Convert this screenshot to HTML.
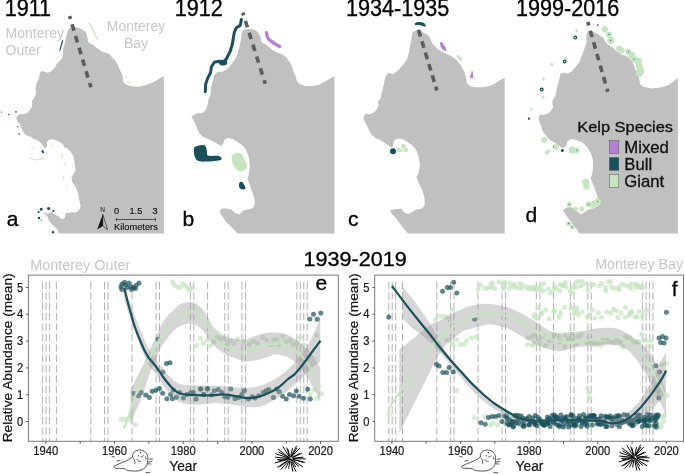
<!DOCTYPE html>
<html><head><meta charset="utf-8"><title>Kelp</title>
<style>html,body{margin:0;padding:0;background:#fff;width:685px;height:474px;overflow:hidden}svg{display:block}text{font-family:"Liberation Sans",Arial,sans-serif}</style>
</head><body>
<svg width="685" height="474" viewBox="0 0 685 474">
<rect width="685" height="474" fill="#fff"/>
<polygon points="67.2,33.2 68.4,29.4 71.0,27.3 74.0,26.9 78.0,27.5 81.1,29.0 84.0,30.5 85.6,31.9 87.0,35.0 87.3,37.0 88.1,42.1 90.6,43.8 93.0,44.5 95.5,47.0 98.1,48.9 101.9,51.5 105.7,52.7 109.5,54.0 112.0,57.2 115.2,60.3 117.7,64.8 119.6,69.2 121.5,73.0 122.8,76.8 123.4,81.9 125.9,84.4 131.0,86.3 138.6,86.7 146.2,85.0 153.8,81.9 158.9,78.7 163.8,76.2 163.8,233.6 58.6,233.6 58.1,230.8 56.9,229.1 55.6,227.4 53.5,225.7 51.8,224.1 50.1,221.9 48.4,220.3 48.4,218.1 46.8,216.0 45.1,214.3 43.4,212.7 45.1,212.2 46.8,213.9 48.4,213.5 50.1,212.7 51.0,211.8 52.7,212.2 54.3,214.3 56.9,215.6 59.0,216.5 59.8,217.7 60.7,218.6 62.8,219.0 64.5,218.1 65.3,216.5 65.3,213.5 66.2,212.7 67.8,213.1 69.5,212.7 72.1,212.2 75.4,212.7 77.1,211.8 79.8,208.8 80.6,205.4 78.9,198.7 78.1,193.6 75.6,186.9 72.2,181.8 71.4,177.6 73.0,175.1 75.6,170.0 75.1,166.3 74.3,160.4 73.4,156.2 70.9,151.9 67.5,148.6 64.1,146.9 62.4,143.5 59.1,141.8 55.4,140.1 52.2,139.2 48.5,140.1 46.9,142.2 46.9,146.4 45.9,148.5 43.8,146.4 41.6,144.3 40.1,142.2 38.0,140.6 35.3,139.6 32.7,138.5 31.1,136.9 27.9,135.9 24.8,134.3 23.2,131.6 22.1,129.0 20.5,125.8 19.0,123.2 17.4,121.1 16.3,118.5 17.4,115.8 19.5,114.2 23.7,114.2 26.9,113.2 29.5,110.5 31.6,107.4 32.2,103.2 31.9,100.9 33.9,98.2 35.5,95.1 36.1,92.0 35.5,88.8 36.1,85.6 36.6,82.4 38.2,80.3 39.2,77.2 39.8,73.5 40.8,71.4 42.9,71.0 45.0,72.1 47.7,72.7 50.8,71.4 53.5,69.2 55.6,66.6 56.6,64.0 58.8,61.9 60.9,59.7 62.4,57.6 63.0,55.0 62.8,52.2 63.6,47.1 64.6,44.0 65.5,40.1 66.3,37.0" fill="#c0c0c0"/>
<polygon points="241.7,32.8 243.0,30.2 246.0,29.2 250.0,29.0 253.1,29.2 256.5,31.1 259.0,33.6 260.7,37.8 261.5,42.1 264.1,43.8 266.0,44.5 268.8,47.0 272.6,50.2 277.7,52.7 282.7,54.6 286.5,57.8 290.3,62.9 292.2,66.7 293.5,71.7 295.4,75.5 296.7,80.6 299.2,83.8 304.3,85.7 310.6,86.3 318.2,85.0 324.5,81.9 329.6,78.7 334.4,76.2 334.4,233.6 237.2,233.6 234.9,230.5 231.4,227.0 226.7,222.4 223.3,217.8 220.9,214.3 219.8,210.8 222.1,208.5 226.7,208.5 231.4,209.6 234.9,213.1 239.5,214.3 243.0,210.8 247.6,209.6 252.2,208.5 254.6,205.0 254.6,199.2 252.2,192.2 249.9,185.3 247.6,179.5 248.8,173.7 249.9,166.7 248.8,157.5 246.4,150.5 243.0,145.9 238.3,142.4 233.7,139.4 227.9,137.8 224.4,140.1 223.3,143.6 220.9,145.9 215.1,142.4 208.2,138.9 202.4,136.5 199.0,132.6 197.3,128.4 195.6,124.1 193.1,119.9 191.4,116.5 193.9,114.9 197.3,113.2 202.4,113.2 205.8,109.8 207.4,105.6 208.3,99.7 210.8,93.8 210.8,88.7 211.8,84.3 212.5,81.9 214.2,75.2 217.6,71.8 222.6,71.8 226.5,69.5 229.4,66.8 232.9,62.3 236.3,57.3 238.8,48.8 240.5,42.1 241.3,37.8" fill="#c0c0c0"/>
<polygon points="412.3,32.7 414.0,31.0 418.0,30.7 421.8,31.2 423.7,32.7 426.8,34.0 429.4,36.5 430.6,39.5 431.9,42.5 433.8,45.1 437.6,48.9 442.7,52.1 447.7,54.6 453.4,57.2 456.6,60.3 460.4,64.8 462.9,69.2 464.8,73.0 466.1,78.1 466.7,83.1 469.3,85.7 474.3,87.2 483.2,87.2 490.8,85.7 497.1,81.9 504.7,77.4 504.7,233.6 407.9,233.6 406.0,231.2 402.5,227.0 399.1,222.4 395.6,217.8 392.1,214.3 389.8,210.3 393.3,209.6 397.9,208.9 401.4,208.5 403.7,212.0 408.3,214.3 411.8,212.0 416.4,209.6 422.2,208.5 424.6,205.0 424.6,198.0 422.2,189.9 418.8,183.0 416.4,177.2 418.8,172.5 419.9,165.6 418.8,157.5 416.4,150.5 413.0,145.9 407.2,141.7 402.5,138.9 397.9,138.4 394.4,140.1 393.3,143.6 392.1,148.2 387.5,144.7 380.5,140.1 376.1,138.5 371.8,135.1 369.3,130.9 367.6,126.7 365.1,122.4 363.4,118.2 365.1,114.0 370.2,114.3 374.4,112.3 376.9,108.9 378.6,104.7 377.8,101.4 380.3,98.8 382.0,92.1 383.7,85.3 384.5,80.3 386.2,75.2 388.7,72.7 392.9,74.3 398.0,70.5 402.8,65.0 406.5,60.3 407.8,56.8 409.1,51.7 409.7,46.6 411.0,42.2 411.6,37.8" fill="#c0c0c0"/>
<polygon points="586.7,33.4 588.0,31.6 591.0,31.2 593.0,31.6 595.6,32.7 599.4,35.3 603.1,37.5 605.6,42.0 608.1,44.5 613.2,47.9 616.6,51.3 621.6,54.6 626.7,56.3 630.1,58.9 633.4,63.9 635.1,69.0 637.6,74.1 639.3,79.1 640.2,84.2 643.6,86.7 652.0,88.4 660.4,87.5 668.9,85.0 677.3,78.6 677.9,77.9 677.9,233.6 579.0,233.6 576.7,229.3 573.2,224.7 569.7,220.1 566.3,215.4 563.0,210.5 565.1,208.5 567.4,207.3 570.9,207.3 574.4,208.9 577.9,212.0 581.3,214.3 584.8,212.0 588.3,209.6 592.9,208.5 597.6,206.2 598.7,201.5 597.6,196.9 595.2,189.9 592.9,184.1 590.6,178.3 591.8,174.9 592.9,169.1 592.9,159.8 590.6,152.8 587.1,147.0 582.5,142.4 576.7,140.1 570.9,138.9 567.4,141.2 566.3,145.9 562.8,148.2 555.8,143.6 548.9,138.9 543.1,132.0 542.0,129.3 541.2,125.9 539.5,121.7 538.6,117.4 540.3,114.1 542.8,114.9 547.1,114.1 550.4,111.5 553.0,107.3 552.1,102.3 553.0,99.7 555.5,95.5 556.4,91.3 557.2,86.2 558.9,82.0 559.7,76.9 560.6,73.6 563.9,72.7 568.2,73.6 572.4,71.0 575.8,66.8 579.5,62.0 581.5,56.0 582.9,53.0 584.2,49.2 585.4,45.4 586.7,42.2 586.1,38.4" fill="#c0c0c0"/>
<line x1="69.58" y1="15.9" x2="90.9" y2="87.3" stroke="#5c5c5c" stroke-width="3.6" stroke-dasharray="6.68 5.58" stroke-dashoffset="3.55"/>
<line x1="242.8" y1="12.6" x2="265.2" y2="83.7" stroke="#5c5c5c" stroke-width="3.6" stroke-dasharray="6.61 5.81" stroke-dashoffset="3.67"/>
<line x1="416.3" y1="22.8" x2="436.9" y2="90.4" stroke="#5c5c5c" stroke-width="3.6" stroke-dasharray="6.90 4.97" stroke-dashoffset="4.50"/>
<line x1="587.8" y1="22.1" x2="607.8" y2="91.8" stroke="#5c5c5c" stroke-width="3.6" stroke-dasharray="6.66 5.41" stroke-dashoffset="3.12"/>
<polyline points="89.0,23.0 90.5,25.5 92.5,28.5 93.5,31.5 94.5,33.5 95.5,36.0 97.0,38.0 98.0,39.5" fill="none" stroke="#c5e5bf" stroke-width="1.3" stroke-linecap="round" stroke-linejoin="round"/>
<polyline points="62.6,40.5 61.8,43.5 60.8,47.0 59.8,50.3" fill="none" stroke="#1a505b" stroke-width="1.1" stroke-linecap="round" stroke-linejoin="round"/>
<polyline points="29.6,158.0 33.0,159.5 36.0,160.0 39.0,159.3 42.0,158.8 44.3,158.0" fill="none" stroke="#c5e5bf" stroke-width="1.0" stroke-linecap="round" stroke-linejoin="round"/>
<polyline points="31.5,146.2 33.5,148.4" fill="none" stroke="#c5e5bf" stroke-width="0.9" stroke-linecap="round" stroke-linejoin="round"/>
<ellipse cx="42.8" cy="151.7" rx="1.1" ry="1.8" transform="rotate(-30 42.8 151.7)" fill="#1a505b"/>
<polyline points="50.8,143.3 51.6,145.5 52.6,147.0" fill="none" stroke="#c5e5bf" stroke-width="0.9" stroke-linecap="round" stroke-linejoin="round"/>
<polyline points="61.5,154.0 62.5,158.0" fill="none" stroke="#c5e5bf" stroke-width="0.9" stroke-linecap="round" stroke-linejoin="round"/>
<polyline points="64.0,162.0 65.5,166.0" fill="none" stroke="#c5e5bf" stroke-width="0.9" stroke-linecap="round" stroke-linejoin="round"/>
<polyline points="63.0,176.0 64.0,180.0" fill="none" stroke="#c5e5bf" stroke-width="0.9" stroke-linecap="round" stroke-linejoin="round"/>
<polyline points="66.0,185.0 67.0,188.0" fill="none" stroke="#c5e5bf" stroke-width="0.9" stroke-linecap="round" stroke-linejoin="round"/>
<circle cx="41.2" cy="209.3" r="1.5" fill="#1a505b"/>
<circle cx="38.6" cy="212" r="1.1" fill="#1a505b"/>
<circle cx="48.6" cy="208.5" r="1.6" fill="#1a505b"/>
<circle cx="53.4" cy="210.8" r="1.1" fill="#1a505b"/>
<circle cx="38.9" cy="218" r="1.2" fill="#1a505b"/>
<circle cx="41.2" cy="220.1" r="0.7" fill="#1a505b"/>
<circle cx="53" cy="232.3" r="1.2" fill="#1a505b"/>
<circle cx="8.8" cy="114.5" r="0.8" fill="#1a505b"/>
<circle cx="16" cy="111.8" r="0.9" fill="#1a505b"/>
<circle cx="17.8" cy="126.6" r="0.7" fill="#1a505b"/>
<circle cx="19.2" cy="134" r="0.8" fill="#1a505b"/>
<circle cx="1.5" cy="112" r="0.6" fill="#1a505b"/>
<circle cx="45.8" cy="208.3" r="0.8" fill="#c5e5bf"/>
<circle cx="51.3" cy="207.8" r="0.7" fill="#c5e5bf"/>
<polyline points="125.6,76.0 126.4,78.7" fill="none" stroke="#c5e5bf" stroke-width="0.9" stroke-linecap="round" stroke-linejoin="round"/>
<polyline points="127.2,82.5 131.0,82.5" fill="none" stroke="#c5e5bf" stroke-width="0.9" stroke-linecap="round" stroke-linejoin="round"/>
<polyline points="100.4,43.0 100.8,43.5" fill="none" stroke="#c5e5bf" stroke-width="0.9" stroke-linecap="round" stroke-linejoin="round"/>
<polyline points="106.0,49.0 107.0,49.6" fill="none" stroke="#c5e5bf" stroke-width="0.9" stroke-linecap="round" stroke-linejoin="round"/>
<polyline points="241.4,19.5 240.3,25.2 236.1,28.1 234.2,32.8 233.3,38.5 232.3,44.2 230.4,50.9 228.5,54.7 226.6,58.5 223.8,62.3 219.0,61.3 214.3,62.3 211.4,67.0 210.5,72.7 207.6,78.4 205.7,84.1 205.3,91.7" fill="none" stroke="#1a505b" stroke-width="3.0" stroke-linecap="round" stroke-linejoin="round"/>
<ellipse cx="223" cy="62.6" rx="4.3" ry="2.9" fill="#1a505b"/>
<polyline points="266.4,32.6 267.3,36.7 268.6,39.2 271.5,41.5 275.3,44.0 279.7,46.5" fill="none" stroke="#b57fd3" stroke-width="3.3" stroke-linecap="round" stroke-linejoin="round"/>
<path d="M193.9,147.7 C196,145.5 200,144.8 204,144.9 C206.5,145.5 207,150 207.2,155.3 C210,156.5 215,155.6 218.5,155.9 C221,156 222.5,158.5 221.1,159.7 C218,161 212,161.3 206.5,161.6 C202,161.8 198.9,161.6 196.5,160 C194.5,157.5 193.4,153 193.9,147.7 Z" fill="#1a505b"/>
<path d="M231.8,155.9 C233,153 237,152.2 240.7,153.4 C243,155 246,161 247,165.4 C247,168 245.5,169.8 243,170.8 C240,171.8 237,170.5 235.5,168.5 C233,165 231.3,161 231.8,155.9 Z" fill="#c5e5bf"/>
<path d="M239.4,183.1 C240,181.5 242,181.4 243.2,183 C244,185 245.8,186.8 245.5,188.2 C244.8,189.9 242,189.9 240.1,188.6 C238.6,187 238.6,184.8 239.4,183.1 Z" fill="#1a505b"/>
<path d="M415.2,23 L418,22 L422,22.2 L424.5,23.2 L426,26.6 L424.2,26.4 L421,25.3 L417.5,25.1 L415.6,24.6 Z" fill="#1a505b"/>
<path d="M440,42.5 L442.6,42.2 L443.6,45 L445.6,47.4 L446.3,50.2 L445,51.3 L442.6,49.6 L441,47.2 L440.2,45 Z" fill="#b57fd3"/>
<path d="M456.8,55 L459,54.8 L460.6,57.2 L462.3,59.5 L461.6,61.6 L459.8,60.6 L458.3,58.6 L456.8,57 Z" fill="#c5e5bf"/>
<path d="M471.6,71.2 L473,71.4 L473.2,78 L470,77.8 L470.3,75.2 L471.2,74 Z" fill="#b57fd3"/>
<circle cx="393" cy="151.2" r="3" fill="#1a505b"/>
<circle cx="398.5" cy="149.9" r="2.2" fill="#c5e5bf"/>
<circle cx="403.4" cy="146.2" r="2.4" fill="#c5e5bf"/>
<circle cx="405.8" cy="149.9" r="2.3" fill="#c5e5bf"/>
<circle cx="401.5" cy="150.5" r="1.6" fill="#c5e5bf"/>
<circle cx="576.6" cy="30.8" r="1.5" fill="#c5e5bf"/>
<circle cx="565.8" cy="58.7" r="1.5" fill="#c5e5bf"/>
<circle cx="551.5" cy="64.6" r="1.5" fill="#c5e5bf"/>
<circle cx="565.6" cy="58.4" r="1.5" fill="#c5e5bf"/>
<circle cx="551.8" cy="64.6" r="1.5" fill="#c5e5bf"/>
<circle cx="543.4" cy="79.1" r="1.5" fill="#c5e5bf"/>
<circle cx="543" cy="97.2" r="1.5" fill="#c5e5bf"/>
<circle cx="531.4" cy="109" r="1.5" fill="#c5e5bf"/>
<circle cx="604.7" cy="29.3" r="3.2" fill="#c5e5bf"/>
<circle cx="609" cy="34.4" r="3" fill="#c5e5bf"/>
<circle cx="610.7" cy="40.3" r="3.5" fill="#c5e5bf"/>
<circle cx="619.1" cy="48.7" r="3" fill="#c5e5bf"/>
<circle cx="621.6" cy="50.4" r="3" fill="#c5e5bf"/>
<circle cx="628.4" cy="51.8" r="3" fill="#c5e5bf"/>
<circle cx="631.7" cy="55.2" r="3.5" fill="#c5e5bf"/>
<circle cx="634.3" cy="59.2" r="3.5" fill="#c5e5bf"/>
<circle cx="638.5" cy="61.4" r="3.5" fill="#c5e5bf"/>
<circle cx="639.3" cy="66.5" r="3.6" fill="#c5e5bf"/>
<circle cx="640.2" cy="71.5" r="4" fill="#c5e5bf"/>
<circle cx="639.3" cy="74.1" r="3" fill="#c5e5bf"/>
<circle cx="544.2" cy="140.1" r="3" fill="#c5e5bf"/>
<circle cx="555.8" cy="147" r="3" fill="#c5e5bf"/>
<circle cx="546.6" cy="152.8" r="2" fill="#c5e5bf"/>
<circle cx="548.8" cy="151" r="1.7" fill="#c5e5bf"/>
<circle cx="572.1" cy="150" r="3.5" fill="#c5e5bf"/>
<circle cx="576.7" cy="150.5" r="3" fill="#c5e5bf"/>
<circle cx="585.7" cy="182" r="3.5" fill="#c5e5bf"/>
<circle cx="586.5" cy="186.5" r="3.2" fill="#c5e5bf"/>
<circle cx="569.3" cy="204.3" r="2.5" fill="#c5e5bf"/>
<circle cx="575.5" cy="208.9" r="2.5" fill="#c5e5bf"/>
<circle cx="581.8" cy="208.9" r="2.5" fill="#c5e5bf"/>
<circle cx="588.8" cy="204.3" r="3" fill="#c5e5bf"/>
<circle cx="592.9" cy="205" r="3" fill="#c5e5bf"/>
<circle cx="597.6" cy="201.5" r="3.5" fill="#c5e5bf"/>
<circle cx="594.5" cy="203.5" r="3" fill="#c5e5bf"/>
<circle cx="568.6" cy="223.6" r="2.5" fill="#c5e5bf"/>
<circle cx="572.1" cy="227" r="2.5" fill="#c5e5bf"/>
<circle cx="575.3" cy="37.5" r="1.35" fill="none" stroke="#1a505b" stroke-width="1.3"/>
<circle cx="564.6" cy="61.4" r="1.35" fill="none" stroke="#1a505b" stroke-width="1.3"/>
<circle cx="541.7" cy="89.6" r="1.35" fill="none" stroke="#1a505b" stroke-width="1.3"/>
<circle cx="597.8" cy="25.1" r="0.9" fill="#1a505b"/>
<circle cx="609" cy="34.4" r="0.6" fill="#1a505b"/>
<circle cx="610.7" cy="40.3" r="0.6" fill="#1a505b"/>
<circle cx="628.4" cy="51.8" r="0.6" fill="#1a505b"/>
<circle cx="634" cy="59.2" r="0.6" fill="#1a505b"/>
<circle cx="528.9" cy="118.7" r="1.1" fill="#1a505b"/>
<circle cx="553.5" cy="146.3" r="0.6" fill="#1a505b"/>
<circle cx="562.3" cy="150.5" r="1.5" fill="#1a505b"/>
<circle cx="576.7" cy="150.5" r="0.5" fill="#1a505b"/>
<circle cx="569.3" cy="204.3" r="0.6" fill="#1a505b"/>
<circle cx="588.8" cy="204.3" r="0.6" fill="#1a505b"/>
<circle cx="597.6" cy="201.5" r="0.6" fill="#1a505b"/>
<circle cx="568.6" cy="223.6" r="0.6" fill="#1a505b"/>
<circle cx="572.1" cy="227" r="0.6" fill="#1a505b"/>
<g transform="translate(0,15.6) scale(1,1.07)">
<text x="4.7" y="0" font-size="21.6" fill="#000" text-anchor="start"  stroke="#000" stroke-width="0.3">1911</text>
<text x="174.7" y="0" font-size="21.6" fill="#000" text-anchor="start"  stroke="#000" stroke-width="0.3">1912</text>
<text x="346" y="0" font-size="21.6" fill="#000" text-anchor="start"  stroke="#000" stroke-width="0.3">1934-1935</text>
<text x="516" y="0" font-size="21.6" fill="#000" text-anchor="start"  stroke="#000" stroke-width="0.3">1999-2016</text>
</g>
<text x="5.6" y="38.4" font-size="14" fill="#c6c6c6" text-anchor="start" >Monterey</text>
<text x="5.6" y="55.2" font-size="14" fill="#c6c6c6" text-anchor="start" >Outer</text>
<text x="136" y="31.2" font-size="14" fill="#c6c6c6" text-anchor="middle" >Monterey</text>
<text x="136" y="48" font-size="14" fill="#c6c6c6" text-anchor="middle" >Bay</text>
<text x="6.8" y="226.2" font-size="21" fill="#000" text-anchor="start"  stroke="#000" stroke-width="0.3">a</text>
<text x="182.6" y="226.4" font-size="21" fill="#000" text-anchor="start"  stroke="#000" stroke-width="0.3">b</text>
<text x="348" y="226.4" font-size="21" fill="#000" text-anchor="start"  stroke="#000" stroke-width="0.3">c</text>
<text x="525.6" y="222.2" font-size="21" fill="#000" text-anchor="start"  stroke="#000" stroke-width="0.3">d</text>
<text x="116.5" y="213.7" font-size="9.2" fill="#111" text-anchor="middle"  stroke="#111" stroke-width="0.15">0</text>
<text x="135.9" y="213.7" font-size="9.2" fill="#111" text-anchor="middle"  stroke="#111" stroke-width="0.15">1.5</text>
<text x="155.1" y="213.7" font-size="9.2" fill="#111" text-anchor="middle"  stroke="#111" stroke-width="0.15">3</text>
<path d="M116.3,219.5 H155.4 M116.3,217.9 V221.2 M155.4,217.9 V221.2" stroke="#333" stroke-width="0.8" fill="none"/>
<text x="114" y="229.5" font-size="9.8" fill="#111" text-anchor="start" textLength="43.8" lengthAdjust="spacingAndGlyphs" stroke="#111" stroke-width="0.12">Kilometers</text>
<text x="102.5" y="212" font-size="6.5" fill="#111" text-anchor="middle" >N</text>
<path d="M102.8,214.3 L97.2,229.5 L102.8,226 Z" fill="#111"/><path d="M102.8,214.3 L107.5,229.5 L102.8,226 Z" fill="none" stroke="#111" stroke-width="0.6"/>
<text x="577.2" y="131.9" font-size="14.8" fill="#111" text-anchor="start" textLength="95.8" lengthAdjust="spacingAndGlyphs" stroke="#111" stroke-width="0.3">Kelp Species</text>
<rect x="609.4" y="140.7" width="9.4" height="12.8" fill="#b57fd3" stroke="#555" stroke-width="0.5"/>
<g transform="translate(624.3,0) scale(1.045,1) translate(-624.3,0)"><text x="624.3" y="152.89999999999998" font-size="16" fill="#111" text-anchor="start"  stroke="#111" stroke-width="0.3">Mixed</text></g>
<rect x="609.4" y="157.6" width="9.4" height="12.8" fill="#1a505b" stroke="#555" stroke-width="0.5"/>
<g transform="translate(624.3,0) scale(1.045,1) translate(-624.3,0)"><text x="624.3" y="169.79999999999998" font-size="16" fill="#111" text-anchor="start"  stroke="#111" stroke-width="0.3">Bull</text></g>
<rect x="609.4" y="174.5" width="9.4" height="12.8" fill="#c5e5bf" stroke="#555" stroke-width="0.5"/>
<g transform="translate(624.3,0) scale(1.045,1) translate(-624.3,0)"><text x="624.3" y="186.7" font-size="16" fill="#111" text-anchor="start"  stroke="#111" stroke-width="0.3">Giant</text></g>
<g transform="translate(355.2,0) scale(1.038,1) translate(-355.2,0)"><text x="355.2" y="266.2" font-size="20.8" fill="#000" text-anchor="middle"  stroke="#000" stroke-width="0.3">1939-2019</text></g>
<g transform="translate(30.2,0) scale(1.03,1) translate(-30.2,0)"><text x="30.2" y="269.6" font-size="14" fill="#c6c6c6" text-anchor="start" >Monterey Outer</text></g>
<g transform="translate(683.2,0) scale(1.02,1) translate(-683.2,0)"><text x="683.2" y="269.3" font-size="14" fill="#c6c6c6" text-anchor="end" >Monterey Bay</text></g>
<line x1="42.7" y1="281.8" x2="42.7" y2="441" stroke="#b3b3b3" stroke-width="1" stroke-dasharray="7.4 3"/>
<line x1="46.1" y1="281.8" x2="46.1" y2="441" stroke="#b3b3b3" stroke-width="1" stroke-dasharray="7.4 3"/>
<line x1="49.6" y1="281.8" x2="49.6" y2="441" stroke="#b3b3b3" stroke-width="1" stroke-dasharray="7.4 3"/>
<line x1="56.4" y1="281.8" x2="56.4" y2="441" stroke="#b3b3b3" stroke-width="1" stroke-dasharray="7.4 3"/>
<line x1="90.8" y1="281.8" x2="90.8" y2="441" stroke="#b3b3b3" stroke-width="1" stroke-dasharray="7.4 3"/>
<line x1="104.5" y1="281.8" x2="104.5" y2="441" stroke="#b3b3b3" stroke-width="1" stroke-dasharray="7.4 3"/>
<line x1="108.0" y1="281.8" x2="108.0" y2="441" stroke="#b3b3b3" stroke-width="1" stroke-dasharray="7.4 3"/>
<line x1="132.0" y1="281.8" x2="132.0" y2="441" stroke="#b3b3b3" stroke-width="1" stroke-dasharray="7.4 3"/>
<line x1="156.1" y1="281.8" x2="156.1" y2="441" stroke="#b3b3b3" stroke-width="1" stroke-dasharray="7.4 3"/>
<line x1="159.5" y1="281.8" x2="159.5" y2="441" stroke="#b3b3b3" stroke-width="1" stroke-dasharray="7.4 3"/>
<line x1="190.4" y1="281.8" x2="190.4" y2="441" stroke="#b3b3b3" stroke-width="1" stroke-dasharray="7.4 3"/>
<line x1="193.8" y1="281.8" x2="193.8" y2="441" stroke="#b3b3b3" stroke-width="1" stroke-dasharray="7.4 3"/>
<line x1="207.6" y1="281.8" x2="207.6" y2="441" stroke="#b3b3b3" stroke-width="1" stroke-dasharray="7.4 3"/>
<line x1="224.8" y1="281.8" x2="224.8" y2="441" stroke="#b3b3b3" stroke-width="1" stroke-dasharray="7.4 3"/>
<line x1="228.2" y1="281.8" x2="228.2" y2="441" stroke="#b3b3b3" stroke-width="1" stroke-dasharray="7.4 3"/>
<line x1="241.9" y1="281.8" x2="241.9" y2="441" stroke="#b3b3b3" stroke-width="1" stroke-dasharray="7.4 3"/>
<line x1="245.4" y1="281.8" x2="245.4" y2="441" stroke="#b3b3b3" stroke-width="1" stroke-dasharray="7.4 3"/>
<line x1="296.9" y1="281.8" x2="296.9" y2="441" stroke="#b3b3b3" stroke-width="1" stroke-dasharray="7.4 3"/>
<line x1="300.3" y1="281.8" x2="300.3" y2="441" stroke="#b3b3b3" stroke-width="1" stroke-dasharray="7.4 3"/>
<line x1="303.8" y1="281.8" x2="303.8" y2="441" stroke="#b3b3b3" stroke-width="1" stroke-dasharray="7.4 3"/>
<line x1="307.2" y1="281.8" x2="307.2" y2="441" stroke="#b3b3b3" stroke-width="1" stroke-dasharray="7.4 3"/>
<circle cx="172.6" cy="282.2" r="2.5" fill="#c5e5bf" fill-opacity="0.75"/>
<circle cx="174.4" cy="284.9" r="2.5" fill="#c5e5bf" fill-opacity="0.75"/>
<circle cx="177.1" cy="286.7" r="2.5" fill="#c5e5bf" fill-opacity="0.75"/>
<circle cx="179.9" cy="287.6" r="2.5" fill="#c5e5bf" fill-opacity="0.75"/>
<circle cx="182.6" cy="284.0" r="2.5" fill="#c5e5bf" fill-opacity="0.75"/>
<circle cx="185.3" cy="285.8" r="2.5" fill="#c5e5bf" fill-opacity="0.75"/>
<circle cx="188.0" cy="288.5" r="2.5" fill="#c5e5bf" fill-opacity="0.75"/>
<circle cx="189.8" cy="290.3" r="2.5" fill="#c5e5bf" fill-opacity="0.75"/>
<circle cx="192.6" cy="287.6" r="2.5" fill="#c5e5bf" fill-opacity="0.75"/>
<circle cx="121.0" cy="419.2" r="2.5" fill="#c5e5bf" fill-opacity="0.75"/>
<circle cx="124.7" cy="419.6" r="2.5" fill="#c5e5bf" fill-opacity="0.75"/>
<circle cx="128.3" cy="419.6" r="2.5" fill="#c5e5bf" fill-opacity="0.75"/>
<circle cx="131.1" cy="415.2" r="2.5" fill="#c5e5bf" fill-opacity="0.75"/>
<circle cx="135.1" cy="424.7" r="2.5" fill="#c5e5bf" fill-opacity="0.75"/>
<circle cx="196.1" cy="345.4" r="2.5" fill="#c5e5bf" fill-opacity="0.75"/>
<circle cx="200.2" cy="338.3" r="2.5" fill="#c5e5bf" fill-opacity="0.75"/>
<circle cx="203.3" cy="343.4" r="2.5" fill="#c5e5bf" fill-opacity="0.75"/>
<circle cx="207.4" cy="340.3" r="2.5" fill="#c5e5bf" fill-opacity="0.75"/>
<circle cx="210.4" cy="345.4" r="2.5" fill="#c5e5bf" fill-opacity="0.75"/>
<circle cx="217.6" cy="337.3" r="2.5" fill="#c5e5bf" fill-opacity="0.75"/>
<circle cx="220.7" cy="339.3" r="2.5" fill="#c5e5bf" fill-opacity="0.75"/>
<circle cx="223.7" cy="338.3" r="2.5" fill="#c5e5bf" fill-opacity="0.75"/>
<circle cx="227.8" cy="343.4" r="2.5" fill="#c5e5bf" fill-opacity="0.75"/>
<circle cx="230.9" cy="340.3" r="2.5" fill="#c5e5bf" fill-opacity="0.75"/>
<circle cx="234.0" cy="343.4" r="2.5" fill="#c5e5bf" fill-opacity="0.75"/>
<circle cx="237.4" cy="338.9" r="2.5" fill="#c5e5bf" fill-opacity="0.75"/>
<circle cx="249.3" cy="344.4" r="2.5" fill="#c5e5bf" fill-opacity="0.75"/>
<circle cx="253.4" cy="341.4" r="2.5" fill="#c5e5bf" fill-opacity="0.75"/>
<circle cx="257.5" cy="343.4" r="2.5" fill="#c5e5bf" fill-opacity="0.75"/>
<circle cx="262.6" cy="337.3" r="2.5" fill="#c5e5bf" fill-opacity="0.75"/>
<circle cx="266.7" cy="340.3" r="2.5" fill="#c5e5bf" fill-opacity="0.75"/>
<circle cx="270.8" cy="344.4" r="2.5" fill="#c5e5bf" fill-opacity="0.75"/>
<circle cx="273.8" cy="339.7" r="2.5" fill="#c5e5bf" fill-opacity="0.75"/>
<circle cx="276.9" cy="339.3" r="2.5" fill="#c5e5bf" fill-opacity="0.75"/>
<circle cx="279.0" cy="344.4" r="2.5" fill="#c5e5bf" fill-opacity="0.75"/>
<circle cx="283.0" cy="336.2" r="2.5" fill="#c5e5bf" fill-opacity="0.75"/>
<circle cx="286.1" cy="341.4" r="2.5" fill="#c5e5bf" fill-opacity="0.75"/>
<circle cx="290.2" cy="340.3" r="2.5" fill="#c5e5bf" fill-opacity="0.75"/>
<circle cx="293.3" cy="344.4" r="2.5" fill="#c5e5bf" fill-opacity="0.75"/>
<circle cx="297.4" cy="342.4" r="2.5" fill="#c5e5bf" fill-opacity="0.75"/>
<circle cx="300.4" cy="337.3" r="2.5" fill="#c5e5bf" fill-opacity="0.75"/>
<circle cx="303.5" cy="344.4" r="2.5" fill="#c5e5bf" fill-opacity="0.75"/>
<circle cx="316.8" cy="335.2" r="2.5" fill="#c5e5bf" fill-opacity="0.75"/>
<circle cx="244.0" cy="341.0" r="2.5" fill="#c5e5bf" fill-opacity="0.75"/>
<circle cx="213.5" cy="342.0" r="2.5" fill="#c5e5bf" fill-opacity="0.75"/>
<circle cx="313.6" cy="390.2" r="2.5" fill="#c5e5bf" fill-opacity="0.75"/>
<circle cx="310.3" cy="394.4" r="2.5" fill="#c5e5bf" fill-opacity="0.75"/>
<circle cx="316.6" cy="398.2" r="2.5" fill="#c5e5bf" fill-opacity="0.75"/>
<circle cx="321.6" cy="393.6" r="2.5" fill="#c5e5bf" fill-opacity="0.75"/>
<circle cx="120.9" cy="286.7" r="2.5" fill="#1a505b" fill-opacity="0.7"/>
<circle cx="121.8" cy="289.4" r="2.5" fill="#1a505b" fill-opacity="0.7"/>
<circle cx="124.5" cy="282.2" r="2.5" fill="#1a505b" fill-opacity="0.7"/>
<circle cx="125.4" cy="284.9" r="2.5" fill="#1a505b" fill-opacity="0.7"/>
<circle cx="127.2" cy="287.6" r="2.5" fill="#1a505b" fill-opacity="0.7"/>
<circle cx="129.0" cy="283.1" r="2.5" fill="#1a505b" fill-opacity="0.7"/>
<circle cx="130.9" cy="286.7" r="2.5" fill="#1a505b" fill-opacity="0.7"/>
<circle cx="133.6" cy="287.6" r="2.5" fill="#1a505b" fill-opacity="0.7"/>
<circle cx="135.4" cy="288.5" r="2.5" fill="#1a505b" fill-opacity="0.7"/>
<circle cx="139.0" cy="283.1" r="2.5" fill="#1a505b" fill-opacity="0.7"/>
<circle cx="136.3" cy="285.3" r="2.5" fill="#1a505b" fill-opacity="0.7"/>
<circle cx="122.0" cy="284.0" r="2.5" fill="#1a505b" fill-opacity="0.7"/>
<circle cx="131.5" cy="289.5" r="2.5" fill="#1a505b" fill-opacity="0.7"/>
<circle cx="158.1" cy="339.3" r="2.5" fill="#1a505b" fill-opacity="0.7"/>
<circle cx="162.7" cy="371.9" r="2.5" fill="#1a505b" fill-opacity="0.7"/>
<circle cx="166.5" cy="363.6" r="2.5" fill="#1a505b" fill-opacity="0.7"/>
<circle cx="170.0" cy="362.7" r="2.5" fill="#1a505b" fill-opacity="0.7"/>
<circle cx="133.9" cy="393.5" r="2.5" fill="#1a505b" fill-opacity="0.7"/>
<circle cx="138.4" cy="395.7" r="2.5" fill="#1a505b" fill-opacity="0.7"/>
<circle cx="141.2" cy="392.6" r="2.5" fill="#1a505b" fill-opacity="0.7"/>
<circle cx="145.8" cy="395.0" r="2.5" fill="#1a505b" fill-opacity="0.7"/>
<circle cx="149.4" cy="397.6" r="2.5" fill="#1a505b" fill-opacity="0.7"/>
<circle cx="152.2" cy="391.3" r="2.5" fill="#1a505b" fill-opacity="0.7"/>
<circle cx="155.9" cy="390.2" r="2.5" fill="#1a505b" fill-opacity="0.7"/>
<circle cx="159.5" cy="388.4" r="2.5" fill="#1a505b" fill-opacity="0.7"/>
<circle cx="162.7" cy="393.2" r="2.5" fill="#1a505b" fill-opacity="0.7"/>
<circle cx="166.9" cy="398.7" r="2.5" fill="#1a505b" fill-opacity="0.7"/>
<circle cx="170.6" cy="394.4" r="2.5" fill="#1a505b" fill-opacity="0.7"/>
<circle cx="173.3" cy="389.9" r="2.5" fill="#1a505b" fill-opacity="0.7"/>
<circle cx="172.4" cy="398.7" r="2.5" fill="#1a505b" fill-opacity="0.7"/>
<circle cx="176.4" cy="397.2" r="2.5" fill="#1a505b" fill-opacity="0.7"/>
<circle cx="179.7" cy="392.6" r="2.5" fill="#1a505b" fill-opacity="0.7"/>
<circle cx="183.4" cy="398.1" r="2.5" fill="#1a505b" fill-opacity="0.7"/>
<circle cx="187.1" cy="394.4" r="2.5" fill="#1a505b" fill-opacity="0.7"/>
<circle cx="190.7" cy="392.6" r="2.5" fill="#1a505b" fill-opacity="0.7"/>
<circle cx="193.5" cy="392.6" r="2.5" fill="#1a505b" fill-opacity="0.7"/>
<circle cx="196.2" cy="399.0" r="2.5" fill="#1a505b" fill-opacity="0.7"/>
<circle cx="200.3" cy="388.9" r="2.5" fill="#1a505b" fill-opacity="0.7"/>
<circle cx="203.6" cy="394.4" r="2.5" fill="#1a505b" fill-opacity="0.7"/>
<circle cx="207.2" cy="388.9" r="2.5" fill="#1a505b" fill-opacity="0.7"/>
<circle cx="200.9" cy="389.0" r="2.5" fill="#1a505b" fill-opacity="0.7"/>
<circle cx="203.7" cy="394.4" r="2.5" fill="#1a505b" fill-opacity="0.7"/>
<circle cx="207.7" cy="388.6" r="2.5" fill="#1a505b" fill-opacity="0.7"/>
<circle cx="211.4" cy="395.0" r="2.5" fill="#1a505b" fill-opacity="0.7"/>
<circle cx="214.3" cy="390.8" r="2.5" fill="#1a505b" fill-opacity="0.7"/>
<circle cx="218.3" cy="389.5" r="2.5" fill="#1a505b" fill-opacity="0.7"/>
<circle cx="221.7" cy="392.6" r="2.5" fill="#1a505b" fill-opacity="0.7"/>
<circle cx="224.8" cy="396.8" r="2.5" fill="#1a505b" fill-opacity="0.7"/>
<circle cx="227.9" cy="397.2" r="2.5" fill="#1a505b" fill-opacity="0.7"/>
<circle cx="230.8" cy="389.0" r="2.5" fill="#1a505b" fill-opacity="0.7"/>
<circle cx="234.9" cy="398.7" r="2.5" fill="#1a505b" fill-opacity="0.7"/>
<circle cx="238.5" cy="397.6" r="2.5" fill="#1a505b" fill-opacity="0.7"/>
<circle cx="241.8" cy="394.4" r="2.5" fill="#1a505b" fill-opacity="0.7"/>
<circle cx="244.4" cy="390.8" r="2.5" fill="#1a505b" fill-opacity="0.7"/>
<circle cx="248.6" cy="399.0" r="2.5" fill="#1a505b" fill-opacity="0.7"/>
<circle cx="252.3" cy="396.8" r="2.5" fill="#1a505b" fill-opacity="0.7"/>
<circle cx="255.0" cy="398.1" r="2.5" fill="#1a505b" fill-opacity="0.7"/>
<circle cx="258.7" cy="395.7" r="2.5" fill="#1a505b" fill-opacity="0.7"/>
<circle cx="263.3" cy="392.6" r="2.5" fill="#1a505b" fill-opacity="0.7"/>
<circle cx="266.1" cy="390.8" r="2.5" fill="#1a505b" fill-opacity="0.7"/>
<circle cx="268.8" cy="389.5" r="2.5" fill="#1a505b" fill-opacity="0.7"/>
<circle cx="273.4" cy="397.6" r="2.5" fill="#1a505b" fill-opacity="0.7"/>
<circle cx="276.7" cy="388.9" r="2.5" fill="#1a505b" fill-opacity="0.7"/>
<circle cx="279.3" cy="391.7" r="2.5" fill="#1a505b" fill-opacity="0.7"/>
<circle cx="282.6" cy="396.3" r="2.5" fill="#1a505b" fill-opacity="0.7"/>
<circle cx="286.2" cy="399.0" r="2.5" fill="#1a505b" fill-opacity="0.7"/>
<circle cx="289.5" cy="394.4" r="2.5" fill="#1a505b" fill-opacity="0.7"/>
<circle cx="293.6" cy="395.7" r="2.5" fill="#1a505b" fill-opacity="0.7"/>
<circle cx="296.3" cy="391.1" r="2.5" fill="#1a505b" fill-opacity="0.7"/>
<circle cx="299.1" cy="396.3" r="2.5" fill="#1a505b" fill-opacity="0.7"/>
<circle cx="303.5" cy="398.2" r="2.5" fill="#1a505b" fill-opacity="0.7"/>
<circle cx="307.7" cy="389.3" r="2.5" fill="#1a505b" fill-opacity="0.7"/>
<circle cx="310.3" cy="399.0" r="2.5" fill="#1a505b" fill-opacity="0.7"/>
<circle cx="309.9" cy="319.0" r="2.5" fill="#1a505b" fill-opacity="0.7"/>
<circle cx="313.5" cy="314.2" r="2.5" fill="#1a505b" fill-opacity="0.7"/>
<circle cx="317.2" cy="319.3" r="2.5" fill="#1a505b" fill-opacity="0.7"/>
<circle cx="320.8" cy="313.0" r="2.5" fill="#1a505b" fill-opacity="0.7"/>
<path d="M130.5,390.0 C131.2,388.5 133.4,384.2 135.0,381.0 C136.6,377.8 138.3,374.3 140.0,371.0 C141.7,367.7 143.3,364.7 145.0,361.0 C146.7,357.3 148.3,352.7 150.0,349.0 C151.7,345.3 153.2,342.9 155.0,339.0 C156.8,335.1 159.0,329.2 161.0,325.5 C163.0,321.8 165.0,318.9 167.0,316.5 C169.0,314.1 170.6,312.8 172.8,310.8 C175.0,308.8 177.4,305.7 180.0,304.3 C182.6,302.9 185.9,302.4 188.4,302.2 C190.9,302.0 193.1,302.5 195.2,303.4 C197.3,304.3 199.4,306.0 201.1,307.7 C202.8,309.4 203.9,311.5 205.3,313.6 C206.7,315.7 208.2,318.1 209.5,320.3 C210.8,322.5 212.0,325.0 213.4,326.8 C214.8,328.6 216.3,329.8 217.7,331.0 C219.1,332.2 220.4,333.3 221.9,334.3 C223.4,335.3 224.8,336.1 226.9,336.9 C229.0,337.7 231.5,338.8 234.5,339.2 C237.5,339.6 241.6,340.0 245.0,339.5 C248.4,339.0 251.5,337.1 255.0,336.0 C258.5,334.9 262.7,333.6 266.0,333.0 C269.3,332.4 271.8,332.3 275.0,332.5 C278.2,332.7 281.7,332.9 285.0,334.0 C288.3,335.1 291.7,336.8 295.0,339.0 C298.3,341.2 301.8,344.0 305.0,347.0 C308.2,350.0 311.4,353.5 314.0,357.0 C316.6,360.5 319.2,366.2 320.3,368.0 L320.3,402.0 C319.2,399.8 316.6,393.7 314.0,389.0 C311.4,384.3 308.2,378.5 305.0,374.0 C301.8,369.5 298.3,365.0 295.0,362.0 C291.7,359.0 288.3,357.2 285.0,356.0 C281.7,354.8 278.2,354.2 275.0,354.5 C271.8,354.8 269.3,356.5 266.0,357.5 C262.7,358.5 258.5,359.9 255.0,360.5 C251.5,361.1 248.4,361.4 245.0,361.0 C241.6,360.6 237.5,359.0 234.5,358.0 C231.5,357.0 229.0,356.0 226.9,355.0 C224.8,354.0 223.4,353.0 221.9,352.0 C220.4,351.0 219.1,350.2 217.7,349.0 C216.3,347.8 214.8,346.5 213.4,345.0 C212.0,343.5 210.8,341.9 209.5,340.0 C208.2,338.1 206.7,335.7 205.3,333.8 C203.9,331.9 202.8,330.4 201.1,328.8 C199.4,327.2 197.3,325.4 195.2,324.5 C193.1,323.6 190.9,323.4 188.4,323.7 C185.9,324.0 182.6,324.9 180.0,326.2 C177.4,327.5 175.0,329.4 172.8,331.5 C170.6,333.6 169.0,336.3 167.0,339.0 C165.0,341.7 163.0,343.7 161.0,347.5 C159.0,351.3 156.8,357.8 155.0,362.0 C153.2,366.2 151.7,368.7 150.0,373.0 C148.3,377.3 146.7,383.2 145.0,388.0 C143.3,392.8 141.7,397.8 140.0,402.0 C138.3,406.2 136.6,409.2 135.0,413.0 C133.4,416.8 131.2,423.0 130.5,425.0 Z" fill="#999" fill-opacity="0.4"/>
<path d="M122.5,283.0 C123.1,284.5 124.8,288.7 126.0,292.0 C127.2,295.3 128.5,299.0 130.0,303.0 C131.5,307.0 133.3,311.7 135.0,316.0 C136.7,320.3 138.3,324.8 140.0,329.0 C141.7,333.2 143.3,337.3 145.0,341.0 C146.7,344.7 148.2,347.8 150.0,351.0 C151.8,354.2 153.8,357.0 156.0,360.0 C158.2,363.0 160.5,366.0 163.0,369.0 C165.5,372.0 168.5,375.7 171.0,378.0 C173.5,380.3 175.5,381.8 178.0,383.0 C180.5,384.2 182.3,384.6 186.0,385.0 C189.7,385.4 194.7,385.3 200.0,385.5 C205.3,385.7 211.8,385.7 218.0,386.0 C224.2,386.3 231.5,387.2 237.0,387.5 C242.5,387.8 246.5,388.0 251.0,387.5 C255.5,387.0 260.0,385.9 264.0,384.5 C268.0,383.1 271.5,381.1 275.0,379.0 C278.5,376.9 281.7,374.8 285.0,372.0 C288.3,369.2 291.7,365.8 295.0,362.0 C298.3,358.2 301.8,353.8 305.0,349.0 C308.2,344.2 311.4,338.2 314.0,333.0 C316.6,327.8 319.2,320.5 320.3,318.0 L320.3,362.0 C319.2,362.7 316.6,363.8 314.0,366.0 C311.4,368.2 308.2,372.0 305.0,375.0 C301.8,378.0 298.3,381.0 295.0,384.0 C291.7,387.0 288.3,390.5 285.0,393.0 C281.7,395.5 278.5,396.9 275.0,399.0 C271.5,401.1 268.0,404.1 264.0,405.5 C260.0,406.9 255.5,407.3 251.0,407.3 C246.5,407.3 242.5,406.2 237.0,405.5 C231.5,404.8 224.2,403.2 218.0,403.0 C211.8,402.8 205.3,404.3 200.0,404.5 C194.7,404.7 189.7,404.6 186.0,404.0 C182.3,403.4 180.5,402.5 178.0,401.0 C175.5,399.5 173.5,397.7 171.0,395.0 C168.5,392.3 165.5,388.5 163.0,385.0 C160.5,381.5 158.2,377.0 156.0,374.0 C153.8,371.0 151.8,369.8 150.0,367.0 C148.2,364.2 146.7,360.7 145.0,357.0 C143.3,353.3 141.7,349.2 140.0,345.0 C138.3,340.8 136.7,336.5 135.0,332.0 C133.3,327.5 131.5,322.5 130.0,318.0 C128.5,313.5 127.2,309.5 126.0,305.0 C124.8,300.5 123.1,293.3 122.5,291.0 Z" fill="#999" fill-opacity="0.4"/>
<path d="M123.8,428.8 C124.8,425.9 127.8,417.8 130.0,411.5 C132.2,405.2 134.5,398.2 137.0,391.0 C139.5,383.8 142.3,374.8 145.0,368.0 C147.7,361.2 151.0,355.2 153.4,350.5 C155.8,345.8 157.3,343.0 159.3,339.8 C161.3,336.6 163.2,334.0 165.2,331.3 C167.2,328.6 169.0,326.1 171.1,323.8 C173.2,321.6 175.7,319.4 177.8,317.8 C179.9,316.2 181.8,315.1 183.8,314.2 C185.8,313.3 187.8,312.7 190.0,312.7 C192.2,312.7 194.9,313.2 196.9,314.0 C198.9,314.8 200.2,315.8 201.9,317.6 C203.6,319.4 205.6,322.7 207.0,325.0 C208.4,327.3 209.2,328.9 210.5,331.2 C211.8,333.5 213.2,336.4 215.1,338.6 C217.0,340.8 219.4,342.8 221.9,344.5 C224.4,346.2 227.5,347.6 230.3,348.7 C233.1,349.8 236.4,350.7 238.8,351.2 C241.2,351.7 242.8,351.8 245.0,351.6 C247.2,351.4 249.3,350.7 252.1,349.8 C254.9,348.9 258.4,347.0 261.6,346.0 C264.8,345.0 268.0,344.4 271.1,344.0 C274.2,343.6 277.7,343.6 280.0,343.8 C282.3,344.0 283.4,344.6 285.1,345.2 C286.8,345.8 288.3,346.6 290.0,347.5 C291.7,348.4 293.6,349.2 295.3,350.3 C297.0,351.4 298.3,352.3 300.0,354.0 C301.7,355.7 303.7,358.2 305.4,360.4 C307.1,362.6 308.6,364.8 310.0,367.0 C311.4,369.2 312.7,371.7 313.9,373.9 C315.1,376.1 315.9,377.9 317.0,380.0 C318.1,382.1 320.0,385.5 320.6,386.6" fill="none" stroke="#c5e5bf" stroke-width="2"/>
<path d="M124.3,288.0 C124.8,290.0 126.2,296.0 127.2,300.0 C128.2,304.0 129.3,307.8 130.5,312.0 C131.7,316.2 132.9,321.0 134.4,325.5 C135.9,330.0 137.8,334.8 139.5,339.0 C141.2,343.2 143.0,347.4 144.5,350.5 C146.0,353.6 146.7,354.8 148.6,357.5 C150.5,360.2 153.5,363.2 155.9,366.5 C158.3,369.8 160.8,373.7 163.2,377.0 C165.6,380.3 168.1,383.6 170.6,386.2 C173.1,388.8 175.5,391.2 177.9,392.6 C180.3,394.0 182.1,394.0 185.2,394.4 C188.2,394.8 191.9,395.0 196.2,395.2 C200.5,395.4 206.4,395.5 211.0,395.4 C215.6,395.3 219.6,394.2 223.9,394.4 C228.2,394.5 232.7,395.7 236.7,396.3 C240.7,396.9 244.0,398.0 247.7,398.1 C251.4,398.2 255.0,397.7 258.7,396.8 C262.4,395.9 266.3,394.2 269.7,392.6 C273.1,391.0 275.8,389.4 278.9,387.1 C282.0,384.8 285.6,381.1 288.1,379.0 C290.7,376.9 292.2,376.4 294.2,374.6 C296.2,372.8 298.1,370.3 300.0,368.0 C301.9,365.7 303.7,363.2 305.4,361.0 C307.1,358.8 308.6,356.7 310.0,354.8 C311.4,352.9 312.2,351.8 314.0,349.4 C315.8,347.0 319.5,342.1 320.6,340.6" fill="none" stroke="#1a505b" stroke-width="2.2"/>
<rect x="28.4" y="275.1" width="309.9" height="166.2" fill="none" stroke="#7a7a7a" stroke-width="1"/>
<line x1="45.8" y1="441.3" x2="45.8" y2="443.8" stroke="#333" stroke-width="0.8"/>
<text transform="translate(45.8,455) scale(1,1.08)" x="0" y="0" font-size="11.2" fill="#1a1a1a" stroke="#1a1a1a" stroke-width="0.2" text-anchor="middle">1940</text>
<line x1="80.2" y1="441.3" x2="80.2" y2="443.8" stroke="#333" stroke-width="0.8"/>
<line x1="114.5" y1="441.3" x2="114.5" y2="443.8" stroke="#333" stroke-width="0.8"/>
<text transform="translate(114.5,455) scale(1,1.08)" x="0" y="0" font-size="11.2" fill="#1a1a1a" stroke="#1a1a1a" stroke-width="0.2" text-anchor="middle">1960</text>
<line x1="148.8" y1="441.3" x2="148.8" y2="443.8" stroke="#333" stroke-width="0.8"/>
<line x1="183.2" y1="441.3" x2="183.2" y2="443.8" stroke="#333" stroke-width="0.8"/>
<text transform="translate(183.2,455) scale(1,1.08)" x="0" y="0" font-size="11.2" fill="#1a1a1a" stroke="#1a1a1a" stroke-width="0.2" text-anchor="middle">1980</text>
<line x1="217.6" y1="441.3" x2="217.6" y2="443.8" stroke="#333" stroke-width="0.8"/>
<line x1="251.9" y1="441.3" x2="251.9" y2="443.8" stroke="#333" stroke-width="0.8"/>
<text transform="translate(251.9,455) scale(1,1.08)" x="0" y="0" font-size="11.2" fill="#1a1a1a" stroke="#1a1a1a" stroke-width="0.2" text-anchor="middle">2000</text>
<line x1="286.2" y1="441.3" x2="286.2" y2="443.8" stroke="#333" stroke-width="0.8"/>
<line x1="320.6" y1="441.3" x2="320.6" y2="443.8" stroke="#333" stroke-width="0.8"/>
<text transform="translate(320.6,455) scale(1,1.08)" x="0" y="0" font-size="11.2" fill="#1a1a1a" stroke="#1a1a1a" stroke-width="0.2" text-anchor="middle">2020</text>
<line x1="26.1" y1="421.5" x2="28.4" y2="421.5" stroke="#333" stroke-width="0.8"/>
<text transform="translate(23.2,425.6) scale(1,1.08)" x="0" y="0" font-size="11.2" fill="#1a1a1a" stroke="#1a1a1a" stroke-width="0.2" text-anchor="end">0</text>
<line x1="26.1" y1="394.7" x2="28.4" y2="394.7" stroke="#333" stroke-width="0.8"/>
<text transform="translate(23.2,398.8) scale(1,1.08)" x="0" y="0" font-size="11.2" fill="#1a1a1a" stroke="#1a1a1a" stroke-width="0.2" text-anchor="end">1</text>
<line x1="26.1" y1="367.9" x2="28.4" y2="367.9" stroke="#333" stroke-width="0.8"/>
<text transform="translate(23.2,372.0) scale(1,1.08)" x="0" y="0" font-size="11.2" fill="#1a1a1a" stroke="#1a1a1a" stroke-width="0.2" text-anchor="end">2</text>
<line x1="26.1" y1="341.1" x2="28.4" y2="341.1" stroke="#333" stroke-width="0.8"/>
<text transform="translate(23.2,345.2) scale(1,1.08)" x="0" y="0" font-size="11.2" fill="#1a1a1a" stroke="#1a1a1a" stroke-width="0.2" text-anchor="end">3</text>
<line x1="26.1" y1="314.3" x2="28.4" y2="314.3" stroke="#333" stroke-width="0.8"/>
<text transform="translate(23.2,318.4) scale(1,1.08)" x="0" y="0" font-size="11.2" fill="#1a1a1a" stroke="#1a1a1a" stroke-width="0.2" text-anchor="end">4</text>
<line x1="26.1" y1="287.5" x2="28.4" y2="287.5" stroke="#333" stroke-width="0.8"/>
<text transform="translate(23.2,291.6) scale(1,1.08)" x="0" y="0" font-size="11.2" fill="#1a1a1a" stroke="#1a1a1a" stroke-width="0.2" text-anchor="end">5</text>
<text x="183.2" y="470.7" font-size="13.8" fill="#111" text-anchor="middle"  stroke="#111" stroke-width="0.2">Year</text>
<text transform="translate(12.1,357.9) rotate(-90)" x="0" y="0" font-size="13.7" fill="#111" stroke="#111" stroke-width="0.2" text-anchor="middle">Relative Abundance (mean)</text>
<text x="315.5" y="290.2" font-size="21" fill="#000" text-anchor="start"  stroke="#000" stroke-width="0.3">e</text>
<line x1="388.8" y1="281.8" x2="388.8" y2="441" stroke="#b3b3b3" stroke-width="1" stroke-dasharray="7.4 3"/>
<line x1="392.2" y1="281.8" x2="392.2" y2="441" stroke="#b3b3b3" stroke-width="1" stroke-dasharray="7.4 3"/>
<line x1="395.7" y1="281.8" x2="395.7" y2="441" stroke="#b3b3b3" stroke-width="1" stroke-dasharray="7.4 3"/>
<line x1="402.5" y1="281.8" x2="402.5" y2="441" stroke="#b3b3b3" stroke-width="1" stroke-dasharray="7.4 3"/>
<line x1="436.8" y1="281.8" x2="436.8" y2="441" stroke="#b3b3b3" stroke-width="1" stroke-dasharray="7.4 3"/>
<line x1="450.6" y1="281.8" x2="450.6" y2="441" stroke="#b3b3b3" stroke-width="1" stroke-dasharray="7.4 3"/>
<line x1="454.0" y1="281.8" x2="454.0" y2="441" stroke="#b3b3b3" stroke-width="1" stroke-dasharray="7.4 3"/>
<line x1="478.0" y1="281.8" x2="478.0" y2="441" stroke="#b3b3b3" stroke-width="1" stroke-dasharray="7.4 3"/>
<line x1="502.0" y1="281.8" x2="502.0" y2="441" stroke="#b3b3b3" stroke-width="1" stroke-dasharray="7.4 3"/>
<line x1="505.5" y1="281.8" x2="505.5" y2="441" stroke="#b3b3b3" stroke-width="1" stroke-dasharray="7.4 3"/>
<line x1="536.3" y1="281.8" x2="536.3" y2="441" stroke="#b3b3b3" stroke-width="1" stroke-dasharray="7.4 3"/>
<line x1="539.8" y1="281.8" x2="539.8" y2="441" stroke="#b3b3b3" stroke-width="1" stroke-dasharray="7.4 3"/>
<line x1="553.5" y1="281.8" x2="553.5" y2="441" stroke="#b3b3b3" stroke-width="1" stroke-dasharray="7.4 3"/>
<line x1="570.7" y1="281.8" x2="570.7" y2="441" stroke="#b3b3b3" stroke-width="1" stroke-dasharray="7.4 3"/>
<line x1="574.1" y1="281.8" x2="574.1" y2="441" stroke="#b3b3b3" stroke-width="1" stroke-dasharray="7.4 3"/>
<line x1="587.8" y1="281.8" x2="587.8" y2="441" stroke="#b3b3b3" stroke-width="1" stroke-dasharray="7.4 3"/>
<line x1="591.2" y1="281.8" x2="591.2" y2="441" stroke="#b3b3b3" stroke-width="1" stroke-dasharray="7.4 3"/>
<line x1="642.7" y1="281.8" x2="642.7" y2="441" stroke="#b3b3b3" stroke-width="1" stroke-dasharray="7.4 3"/>
<line x1="646.1" y1="281.8" x2="646.1" y2="441" stroke="#b3b3b3" stroke-width="1" stroke-dasharray="7.4 3"/>
<line x1="649.6" y1="281.8" x2="649.6" y2="441" stroke="#b3b3b3" stroke-width="1" stroke-dasharray="7.4 3"/>
<line x1="653.0" y1="281.8" x2="653.0" y2="441" stroke="#b3b3b3" stroke-width="1" stroke-dasharray="7.4 3"/>
<circle cx="388.8" cy="415.6" r="2.5" fill="#c5e5bf" fill-opacity="0.75"/>
<circle cx="456.8" cy="390.5" r="2.5" fill="#c5e5bf" fill-opacity="0.75"/>
<circle cx="474.4" cy="417.4" r="2.5" fill="#c5e5bf" fill-opacity="0.75"/>
<circle cx="435.3" cy="319.7" r="2.5" fill="#c5e5bf" fill-opacity="0.75"/>
<circle cx="439.3" cy="315.7" r="2.5" fill="#c5e5bf" fill-opacity="0.75"/>
<circle cx="443.3" cy="316.5" r="2.5" fill="#c5e5bf" fill-opacity="0.75"/>
<circle cx="446.5" cy="317.3" r="2.5" fill="#c5e5bf" fill-opacity="0.75"/>
<circle cx="449.7" cy="319.7" r="2.5" fill="#c5e5bf" fill-opacity="0.75"/>
<circle cx="452.9" cy="310.1" r="2.5" fill="#c5e5bf" fill-opacity="0.75"/>
<circle cx="452.9" cy="344.5" r="2.5" fill="#c5e5bf" fill-opacity="0.75"/>
<circle cx="456.9" cy="339.7" r="2.5" fill="#c5e5bf" fill-opacity="0.75"/>
<circle cx="460.1" cy="344.5" r="2.5" fill="#c5e5bf" fill-opacity="0.75"/>
<circle cx="464.1" cy="344.5" r="2.5" fill="#c5e5bf" fill-opacity="0.75"/>
<circle cx="466.5" cy="340.5" r="2.5" fill="#c5e5bf" fill-opacity="0.75"/>
<circle cx="471.3" cy="338.1" r="2.5" fill="#c5e5bf" fill-opacity="0.75"/>
<circle cx="447.0" cy="340.0" r="2.5" fill="#c5e5bf" fill-opacity="0.75"/>
<circle cx="451.0" cy="342.0" r="2.5" fill="#c5e5bf" fill-opacity="0.75"/>
<circle cx="476.0" cy="337.0" r="2.5" fill="#c5e5bf" fill-opacity="0.75"/>
<circle cx="478.1" cy="289.5" r="2.5" fill="#c5e5bf" fill-opacity="0.75"/>
<circle cx="480.5" cy="285.0" r="2.5" fill="#c5e5bf" fill-opacity="0.75"/>
<circle cx="485.1" cy="288.6" r="2.5" fill="#c5e5bf" fill-opacity="0.75"/>
<circle cx="487.6" cy="287.9" r="2.5" fill="#c5e5bf" fill-opacity="0.75"/>
<circle cx="490.9" cy="284.1" r="2.5" fill="#c5e5bf" fill-opacity="0.75"/>
<circle cx="492.6" cy="283.1" r="2.5" fill="#c5e5bf" fill-opacity="0.75"/>
<circle cx="491.5" cy="287.3" r="2.5" fill="#c5e5bf" fill-opacity="0.75"/>
<circle cx="495.1" cy="288.6" r="2.5" fill="#c5e5bf" fill-opacity="0.75"/>
<circle cx="499.2" cy="282.1" r="2.5" fill="#c5e5bf" fill-opacity="0.75"/>
<circle cx="503.2" cy="286.5" r="2.5" fill="#c5e5bf" fill-opacity="0.75"/>
<circle cx="503.2" cy="289.0" r="2.5" fill="#c5e5bf" fill-opacity="0.75"/>
<circle cx="504.4" cy="282.5" r="2.5" fill="#c5e5bf" fill-opacity="0.75"/>
<circle cx="503.9" cy="286.8" r="2.5" fill="#c5e5bf" fill-opacity="0.75"/>
<circle cx="509.7" cy="283.5" r="2.5" fill="#c5e5bf" fill-opacity="0.75"/>
<circle cx="509.4" cy="288.6" r="2.5" fill="#c5e5bf" fill-opacity="0.75"/>
<circle cx="513.4" cy="286.5" r="2.5" fill="#c5e5bf" fill-opacity="0.75"/>
<circle cx="515.6" cy="286.9" r="2.5" fill="#c5e5bf" fill-opacity="0.75"/>
<circle cx="514.3" cy="284.2" r="2.5" fill="#c5e5bf" fill-opacity="0.75"/>
<circle cx="518.9" cy="288.2" r="2.5" fill="#c5e5bf" fill-opacity="0.75"/>
<circle cx="521.8" cy="288.0" r="2.5" fill="#c5e5bf" fill-opacity="0.75"/>
<circle cx="520.3" cy="283.5" r="2.5" fill="#c5e5bf" fill-opacity="0.75"/>
<circle cx="523.0" cy="285.3" r="2.5" fill="#c5e5bf" fill-opacity="0.75"/>
<circle cx="527.1" cy="287.1" r="2.5" fill="#c5e5bf" fill-opacity="0.75"/>
<circle cx="528.4" cy="288.8" r="2.5" fill="#c5e5bf" fill-opacity="0.75"/>
<circle cx="531.7" cy="287.2" r="2.5" fill="#c5e5bf" fill-opacity="0.75"/>
<circle cx="531.7" cy="289.4" r="2.5" fill="#c5e5bf" fill-opacity="0.75"/>
<circle cx="535.4" cy="287.0" r="2.5" fill="#c5e5bf" fill-opacity="0.75"/>
<circle cx="534.8" cy="288.8" r="2.5" fill="#c5e5bf" fill-opacity="0.75"/>
<circle cx="536.2" cy="289.8" r="2.5" fill="#c5e5bf" fill-opacity="0.75"/>
<circle cx="536.6" cy="288.6" r="2.5" fill="#c5e5bf" fill-opacity="0.75"/>
<circle cx="540.4" cy="289.8" r="2.5" fill="#c5e5bf" fill-opacity="0.75"/>
<circle cx="540.7" cy="285.6" r="2.5" fill="#c5e5bf" fill-opacity="0.75"/>
<circle cx="543.3" cy="291.1" r="2.5" fill="#c5e5bf" fill-opacity="0.75"/>
<circle cx="543.5" cy="283.5" r="2.5" fill="#c5e5bf" fill-opacity="0.75"/>
<circle cx="548.0" cy="288.9" r="2.5" fill="#c5e5bf" fill-opacity="0.75"/>
<circle cx="550.4" cy="293.0" r="2.5" fill="#c5e5bf" fill-opacity="0.75"/>
<circle cx="554.5" cy="286.8" r="2.5" fill="#c5e5bf" fill-opacity="0.75"/>
<circle cx="552.8" cy="291.2" r="2.5" fill="#c5e5bf" fill-opacity="0.75"/>
<circle cx="556.4" cy="288.7" r="2.5" fill="#c5e5bf" fill-opacity="0.75"/>
<circle cx="559.8" cy="290.8" r="2.5" fill="#c5e5bf" fill-opacity="0.75"/>
<circle cx="560.5" cy="284.7" r="2.5" fill="#c5e5bf" fill-opacity="0.75"/>
<circle cx="562.2" cy="284.9" r="2.5" fill="#c5e5bf" fill-opacity="0.75"/>
<circle cx="562.8" cy="285.5" r="2.5" fill="#c5e5bf" fill-opacity="0.75"/>
<circle cx="566.3" cy="286.9" r="2.5" fill="#c5e5bf" fill-opacity="0.75"/>
<circle cx="565.3" cy="282.4" r="2.5" fill="#c5e5bf" fill-opacity="0.75"/>
<circle cx="570.4" cy="291.3" r="2.5" fill="#c5e5bf" fill-opacity="0.75"/>
<circle cx="572.1" cy="293.0" r="2.5" fill="#c5e5bf" fill-opacity="0.75"/>
<circle cx="573.7" cy="287.2" r="2.5" fill="#c5e5bf" fill-opacity="0.75"/>
<circle cx="577.3" cy="281.7" r="2.5" fill="#c5e5bf" fill-opacity="0.75"/>
<circle cx="576.5" cy="287.0" r="2.5" fill="#c5e5bf" fill-opacity="0.75"/>
<circle cx="580.9" cy="286.0" r="2.5" fill="#c5e5bf" fill-opacity="0.75"/>
<circle cx="581.3" cy="281.0" r="2.5" fill="#c5e5bf" fill-opacity="0.75"/>
<circle cx="585.2" cy="283.8" r="2.5" fill="#c5e5bf" fill-opacity="0.75"/>
<circle cx="587.7" cy="290.2" r="2.5" fill="#c5e5bf" fill-opacity="0.75"/>
<circle cx="591.6" cy="284.4" r="2.5" fill="#c5e5bf" fill-opacity="0.75"/>
<circle cx="593.7" cy="284.4" r="2.5" fill="#c5e5bf" fill-opacity="0.75"/>
<circle cx="599.0" cy="286.1" r="2.5" fill="#c5e5bf" fill-opacity="0.75"/>
<circle cx="601.4" cy="283.6" r="2.5" fill="#c5e5bf" fill-opacity="0.75"/>
<circle cx="605.8" cy="290.5" r="2.5" fill="#c5e5bf" fill-opacity="0.75"/>
<circle cx="605.2" cy="287.3" r="2.5" fill="#c5e5bf" fill-opacity="0.75"/>
<circle cx="608.1" cy="281.4" r="2.5" fill="#c5e5bf" fill-opacity="0.75"/>
<circle cx="610.5" cy="282.1" r="2.5" fill="#c5e5bf" fill-opacity="0.75"/>
<circle cx="611.4" cy="287.0" r="2.5" fill="#c5e5bf" fill-opacity="0.75"/>
<circle cx="614.5" cy="288.2" r="2.5" fill="#c5e5bf" fill-opacity="0.75"/>
<circle cx="618.7" cy="287.5" r="2.5" fill="#c5e5bf" fill-opacity="0.75"/>
<circle cx="619.1" cy="289.5" r="2.5" fill="#c5e5bf" fill-opacity="0.75"/>
<circle cx="621.8" cy="284.2" r="2.5" fill="#c5e5bf" fill-opacity="0.75"/>
<circle cx="625.6" cy="285.2" r="2.5" fill="#c5e5bf" fill-opacity="0.75"/>
<circle cx="629.5" cy="286.2" r="2.5" fill="#c5e5bf" fill-opacity="0.75"/>
<circle cx="630.9" cy="288.3" r="2.5" fill="#c5e5bf" fill-opacity="0.75"/>
<circle cx="631.4" cy="284.0" r="2.5" fill="#c5e5bf" fill-opacity="0.75"/>
<circle cx="635.7" cy="284.0" r="2.5" fill="#c5e5bf" fill-opacity="0.75"/>
<circle cx="636.6" cy="287.1" r="2.5" fill="#c5e5bf" fill-opacity="0.75"/>
<circle cx="638.2" cy="285.9" r="2.5" fill="#c5e5bf" fill-opacity="0.75"/>
<circle cx="641.7" cy="288.1" r="2.5" fill="#c5e5bf" fill-opacity="0.75"/>
<circle cx="640.9" cy="286.7" r="2.5" fill="#c5e5bf" fill-opacity="0.75"/>
<circle cx="643.0" cy="287.1" r="2.5" fill="#c5e5bf" fill-opacity="0.75"/>
<circle cx="534.4" cy="314.8" r="2.5" fill="#c5e5bf" fill-opacity="0.75"/>
<circle cx="534.5" cy="317.1" r="2.5" fill="#c5e5bf" fill-opacity="0.75"/>
<circle cx="538.0" cy="307.5" r="2.5" fill="#c5e5bf" fill-opacity="0.75"/>
<circle cx="537.1" cy="317.9" r="2.5" fill="#c5e5bf" fill-opacity="0.75"/>
<circle cx="541.4" cy="314.3" r="2.5" fill="#c5e5bf" fill-opacity="0.75"/>
<circle cx="541.6" cy="312.6" r="2.5" fill="#c5e5bf" fill-opacity="0.75"/>
<circle cx="545.7" cy="310.0" r="2.5" fill="#c5e5bf" fill-opacity="0.75"/>
<circle cx="549.0" cy="319.1" r="2.5" fill="#c5e5bf" fill-opacity="0.75"/>
<circle cx="553.8" cy="311.7" r="2.5" fill="#c5e5bf" fill-opacity="0.75"/>
<circle cx="554.6" cy="310.8" r="2.5" fill="#c5e5bf" fill-opacity="0.75"/>
<circle cx="559.1" cy="317.2" r="2.5" fill="#c5e5bf" fill-opacity="0.75"/>
<circle cx="560.5" cy="312.9" r="2.5" fill="#c5e5bf" fill-opacity="0.75"/>
<circle cx="564.5" cy="307.6" r="2.5" fill="#c5e5bf" fill-opacity="0.75"/>
<circle cx="571.2" cy="308.0" r="2.5" fill="#c5e5bf" fill-opacity="0.75"/>
<circle cx="574.3" cy="312.6" r="2.5" fill="#c5e5bf" fill-opacity="0.75"/>
<circle cx="576.6" cy="308.3" r="2.5" fill="#c5e5bf" fill-opacity="0.75"/>
<circle cx="576.7" cy="312.1" r="2.5" fill="#c5e5bf" fill-opacity="0.75"/>
<circle cx="578.5" cy="314.7" r="2.5" fill="#c5e5bf" fill-opacity="0.75"/>
<circle cx="582.2" cy="311.9" r="2.5" fill="#c5e5bf" fill-opacity="0.75"/>
<circle cx="587.2" cy="316.9" r="2.5" fill="#c5e5bf" fill-opacity="0.75"/>
<circle cx="592.3" cy="309.5" r="2.5" fill="#c5e5bf" fill-opacity="0.75"/>
<circle cx="589.7" cy="314.8" r="2.5" fill="#c5e5bf" fill-opacity="0.75"/>
<circle cx="594.8" cy="318.2" r="2.5" fill="#c5e5bf" fill-opacity="0.75"/>
<circle cx="598.3" cy="312.7" r="2.5" fill="#c5e5bf" fill-opacity="0.75"/>
<circle cx="601.5" cy="317.2" r="2.5" fill="#c5e5bf" fill-opacity="0.75"/>
<circle cx="606.8" cy="311.9" r="2.5" fill="#c5e5bf" fill-opacity="0.75"/>
<circle cx="610.8" cy="313.0" r="2.5" fill="#c5e5bf" fill-opacity="0.75"/>
<circle cx="613.6" cy="308.9" r="2.5" fill="#c5e5bf" fill-opacity="0.75"/>
<circle cx="617.9" cy="317.7" r="2.5" fill="#c5e5bf" fill-opacity="0.75"/>
<circle cx="616.1" cy="310.5" r="2.5" fill="#c5e5bf" fill-opacity="0.75"/>
<circle cx="621.1" cy="313.1" r="2.5" fill="#c5e5bf" fill-opacity="0.75"/>
<circle cx="625.3" cy="317.0" r="2.5" fill="#c5e5bf" fill-opacity="0.75"/>
<circle cx="625.4" cy="307.5" r="2.5" fill="#c5e5bf" fill-opacity="0.75"/>
<circle cx="629.3" cy="315.6" r="2.5" fill="#c5e5bf" fill-opacity="0.75"/>
<circle cx="629.8" cy="313.2" r="2.5" fill="#c5e5bf" fill-opacity="0.75"/>
<circle cx="631.2" cy="312.8" r="2.5" fill="#c5e5bf" fill-opacity="0.75"/>
<circle cx="631.6" cy="311.2" r="2.5" fill="#c5e5bf" fill-opacity="0.75"/>
<circle cx="636.7" cy="317.0" r="2.5" fill="#c5e5bf" fill-opacity="0.75"/>
<circle cx="635.2" cy="316.9" r="2.5" fill="#c5e5bf" fill-opacity="0.75"/>
<circle cx="639.1" cy="311.4" r="2.5" fill="#c5e5bf" fill-opacity="0.75"/>
<circle cx="642.2" cy="316.5" r="2.5" fill="#c5e5bf" fill-opacity="0.75"/>
<circle cx="643.4" cy="311.2" r="2.5" fill="#c5e5bf" fill-opacity="0.75"/>
<circle cx="648.4" cy="310.7" r="2.5" fill="#c5e5bf" fill-opacity="0.75"/>
<circle cx="527.7" cy="344.5" r="2.5" fill="#c5e5bf" fill-opacity="0.75"/>
<circle cx="528.2" cy="338.1" r="2.5" fill="#c5e5bf" fill-opacity="0.75"/>
<circle cx="532.4" cy="336.8" r="2.5" fill="#c5e5bf" fill-opacity="0.75"/>
<circle cx="532.6" cy="345.5" r="2.5" fill="#c5e5bf" fill-opacity="0.75"/>
<circle cx="534.1" cy="343.4" r="2.5" fill="#c5e5bf" fill-opacity="0.75"/>
<circle cx="534.2" cy="335.3" r="2.5" fill="#c5e5bf" fill-opacity="0.75"/>
<circle cx="539.8" cy="344.3" r="2.5" fill="#c5e5bf" fill-opacity="0.75"/>
<circle cx="538.9" cy="339.2" r="2.5" fill="#c5e5bf" fill-opacity="0.75"/>
<circle cx="543.5" cy="336.6" r="2.5" fill="#c5e5bf" fill-opacity="0.75"/>
<circle cx="545.5" cy="345.8" r="2.5" fill="#c5e5bf" fill-opacity="0.75"/>
<circle cx="549.2" cy="340.6" r="2.5" fill="#c5e5bf" fill-opacity="0.75"/>
<circle cx="551.1" cy="340.5" r="2.5" fill="#c5e5bf" fill-opacity="0.75"/>
<circle cx="554.3" cy="334.9" r="2.5" fill="#c5e5bf" fill-opacity="0.75"/>
<circle cx="554.1" cy="334.5" r="2.5" fill="#c5e5bf" fill-opacity="0.75"/>
<circle cx="559.9" cy="341.4" r="2.5" fill="#c5e5bf" fill-opacity="0.75"/>
<circle cx="558.8" cy="336.4" r="2.5" fill="#c5e5bf" fill-opacity="0.75"/>
<circle cx="564.8" cy="346.9" r="2.5" fill="#c5e5bf" fill-opacity="0.75"/>
<circle cx="565.0" cy="335.2" r="2.5" fill="#c5e5bf" fill-opacity="0.75"/>
<circle cx="568.7" cy="340.0" r="2.5" fill="#c5e5bf" fill-opacity="0.75"/>
<circle cx="568.2" cy="338.2" r="2.5" fill="#c5e5bf" fill-opacity="0.75"/>
<circle cx="571.9" cy="339.6" r="2.5" fill="#c5e5bf" fill-opacity="0.75"/>
<circle cx="572.1" cy="334.2" r="2.5" fill="#c5e5bf" fill-opacity="0.75"/>
<circle cx="577.7" cy="336.4" r="2.5" fill="#c5e5bf" fill-opacity="0.75"/>
<circle cx="576.6" cy="343.6" r="2.5" fill="#c5e5bf" fill-opacity="0.75"/>
<circle cx="580.1" cy="336.1" r="2.5" fill="#c5e5bf" fill-opacity="0.75"/>
<circle cx="581.1" cy="334.2" r="2.5" fill="#c5e5bf" fill-opacity="0.75"/>
<circle cx="587.2" cy="343.2" r="2.5" fill="#c5e5bf" fill-opacity="0.75"/>
<circle cx="587.4" cy="342.2" r="2.5" fill="#c5e5bf" fill-opacity="0.75"/>
<circle cx="590.9" cy="340.6" r="2.5" fill="#c5e5bf" fill-opacity="0.75"/>
<circle cx="592.1" cy="344.5" r="2.5" fill="#c5e5bf" fill-opacity="0.75"/>
<circle cx="595.9" cy="343.7" r="2.5" fill="#c5e5bf" fill-opacity="0.75"/>
<circle cx="595.5" cy="344.6" r="2.5" fill="#c5e5bf" fill-opacity="0.75"/>
<circle cx="600.1" cy="345.4" r="2.5" fill="#c5e5bf" fill-opacity="0.75"/>
<circle cx="599.5" cy="344.0" r="2.5" fill="#c5e5bf" fill-opacity="0.75"/>
<circle cx="603.7" cy="343.4" r="2.5" fill="#c5e5bf" fill-opacity="0.75"/>
<circle cx="602.7" cy="338.4" r="2.5" fill="#c5e5bf" fill-opacity="0.75"/>
<circle cx="606.9" cy="338.6" r="2.5" fill="#c5e5bf" fill-opacity="0.75"/>
<circle cx="608.8" cy="342.1" r="2.5" fill="#c5e5bf" fill-opacity="0.75"/>
<circle cx="613.7" cy="342.7" r="2.5" fill="#c5e5bf" fill-opacity="0.75"/>
<circle cx="611.9" cy="342.6" r="2.5" fill="#c5e5bf" fill-opacity="0.75"/>
<circle cx="617.1" cy="339.1" r="2.5" fill="#c5e5bf" fill-opacity="0.75"/>
<circle cx="618.5" cy="342.3" r="2.5" fill="#c5e5bf" fill-opacity="0.75"/>
<circle cx="622.7" cy="346.7" r="2.5" fill="#c5e5bf" fill-opacity="0.75"/>
<circle cx="620.5" cy="342.0" r="2.5" fill="#c5e5bf" fill-opacity="0.75"/>
<circle cx="626.2" cy="339.2" r="2.5" fill="#c5e5bf" fill-opacity="0.75"/>
<circle cx="625.5" cy="336.5" r="2.5" fill="#c5e5bf" fill-opacity="0.75"/>
<circle cx="629.9" cy="337.3" r="2.5" fill="#c5e5bf" fill-opacity="0.75"/>
<circle cx="632.4" cy="341.2" r="2.5" fill="#c5e5bf" fill-opacity="0.75"/>
<circle cx="637.1" cy="341.4" r="2.5" fill="#c5e5bf" fill-opacity="0.75"/>
<circle cx="637.1" cy="342.3" r="2.5" fill="#c5e5bf" fill-opacity="0.75"/>
<circle cx="639.5" cy="341.8" r="2.5" fill="#c5e5bf" fill-opacity="0.75"/>
<circle cx="641.6" cy="334.6" r="2.5" fill="#c5e5bf" fill-opacity="0.75"/>
<circle cx="645.1" cy="340.1" r="2.5" fill="#c5e5bf" fill-opacity="0.75"/>
<circle cx="645.2" cy="340.4" r="2.5" fill="#c5e5bf" fill-opacity="0.75"/>
<circle cx="649.5" cy="346.3" r="2.5" fill="#c5e5bf" fill-opacity="0.75"/>
<circle cx="650.6" cy="340.8" r="2.5" fill="#c5e5bf" fill-opacity="0.75"/>
<circle cx="540.9" cy="418.9" r="2.5" fill="#c5e5bf" fill-opacity="0.75"/>
<circle cx="590.7" cy="421.6" r="2.5" fill="#c5e5bf" fill-opacity="0.75"/>
<circle cx="526.8" cy="423.2" r="2.5" fill="#c5e5bf" fill-opacity="0.75"/>
<circle cx="528.9" cy="416.1" r="2.5" fill="#c5e5bf" fill-opacity="0.75"/>
<circle cx="520.1" cy="416.4" r="2.5" fill="#c5e5bf" fill-opacity="0.75"/>
<circle cx="504.9" cy="423.5" r="2.5" fill="#c5e5bf" fill-opacity="0.75"/>
<circle cx="545.1" cy="425.0" r="2.5" fill="#c5e5bf" fill-opacity="0.75"/>
<circle cx="606.7" cy="416.5" r="2.5" fill="#c5e5bf" fill-opacity="0.75"/>
<circle cx="648.1" cy="425.4" r="2.5" fill="#c5e5bf" fill-opacity="0.75"/>
<circle cx="490.6" cy="425.1" r="2.5" fill="#c5e5bf" fill-opacity="0.75"/>
<circle cx="551.9" cy="420.8" r="2.5" fill="#c5e5bf" fill-opacity="0.75"/>
<circle cx="645.4" cy="418.4" r="2.5" fill="#c5e5bf" fill-opacity="0.75"/>
<circle cx="568.0" cy="425.4" r="2.5" fill="#c5e5bf" fill-opacity="0.75"/>
<circle cx="602.3" cy="420.7" r="2.5" fill="#c5e5bf" fill-opacity="0.75"/>
<circle cx="646.4" cy="424.2" r="2.5" fill="#c5e5bf" fill-opacity="0.75"/>
<circle cx="581.8" cy="417.2" r="2.5" fill="#c5e5bf" fill-opacity="0.75"/>
<circle cx="585.4" cy="420.6" r="2.5" fill="#c5e5bf" fill-opacity="0.75"/>
<circle cx="513.0" cy="416.5" r="2.5" fill="#c5e5bf" fill-opacity="0.75"/>
<circle cx="568.8" cy="417.2" r="2.5" fill="#c5e5bf" fill-opacity="0.75"/>
<circle cx="554.2" cy="422.7" r="2.5" fill="#c5e5bf" fill-opacity="0.75"/>
<circle cx="556.4" cy="418.6" r="2.5" fill="#c5e5bf" fill-opacity="0.75"/>
<circle cx="578.1" cy="420.2" r="2.5" fill="#c5e5bf" fill-opacity="0.75"/>
<circle cx="611.8" cy="421.3" r="2.5" fill="#c5e5bf" fill-opacity="0.75"/>
<circle cx="649.6" cy="425.5" r="2.5" fill="#c5e5bf" fill-opacity="0.75"/>
<circle cx="604.3" cy="418.4" r="2.5" fill="#c5e5bf" fill-opacity="0.75"/>
<circle cx="497.6" cy="424.9" r="2.5" fill="#c5e5bf" fill-opacity="0.75"/>
<circle cx="612.9" cy="422.2" r="2.5" fill="#c5e5bf" fill-opacity="0.75"/>
<circle cx="539.8" cy="418.7" r="2.5" fill="#c5e5bf" fill-opacity="0.75"/>
<circle cx="595.8" cy="421.6" r="2.5" fill="#c5e5bf" fill-opacity="0.75"/>
<circle cx="579.8" cy="422.3" r="2.5" fill="#c5e5bf" fill-opacity="0.75"/>
<circle cx="607.6" cy="417.9" r="2.5" fill="#c5e5bf" fill-opacity="0.75"/>
<circle cx="520.8" cy="425.8" r="2.5" fill="#c5e5bf" fill-opacity="0.75"/>
<circle cx="635.5" cy="424.8" r="2.5" fill="#c5e5bf" fill-opacity="0.75"/>
<circle cx="484.8" cy="416.6" r="2.5" fill="#c5e5bf" fill-opacity="0.75"/>
<circle cx="524.6" cy="420.3" r="2.5" fill="#c5e5bf" fill-opacity="0.75"/>
<circle cx="585.2" cy="417.0" r="2.5" fill="#c5e5bf" fill-opacity="0.75"/>
<circle cx="571.2" cy="416.7" r="2.5" fill="#c5e5bf" fill-opacity="0.75"/>
<circle cx="492.9" cy="422.8" r="2.5" fill="#c5e5bf" fill-opacity="0.75"/>
<circle cx="572.7" cy="422.3" r="2.5" fill="#c5e5bf" fill-opacity="0.75"/>
<circle cx="542.2" cy="420.8" r="2.5" fill="#c5e5bf" fill-opacity="0.75"/>
<circle cx="587.5" cy="388.0" r="2.5" fill="#c5e5bf" fill-opacity="0.75"/>
<circle cx="589.0" cy="393.0" r="2.5" fill="#c5e5bf" fill-opacity="0.75"/>
<circle cx="590.0" cy="398.0" r="2.5" fill="#c5e5bf" fill-opacity="0.75"/>
<circle cx="661.6" cy="364.7" r="2.5" fill="#c5e5bf" fill-opacity="0.75"/>
<circle cx="666.4" cy="363.2" r="2.5" fill="#c5e5bf" fill-opacity="0.75"/>
<circle cx="653.1" cy="390.4" r="2.5" fill="#c5e5bf" fill-opacity="0.75"/>
<circle cx="655.9" cy="394.2" r="2.5" fill="#c5e5bf" fill-opacity="0.75"/>
<circle cx="658.8" cy="390.4" r="2.5" fill="#c5e5bf" fill-opacity="0.75"/>
<circle cx="667.3" cy="395.5" r="2.5" fill="#c5e5bf" fill-opacity="0.75"/>
<circle cx="662.6" cy="417.0" r="2.5" fill="#c5e5bf" fill-opacity="0.75"/>
<circle cx="659.7" cy="423.7" r="2.5" fill="#c5e5bf" fill-opacity="0.75"/>
<circle cx="657.8" cy="425.6" r="2.5" fill="#c5e5bf" fill-opacity="0.75"/>
<circle cx="650.0" cy="421.0" r="2.5" fill="#c5e5bf" fill-opacity="0.75"/>
<circle cx="646.0" cy="424.0" r="2.5" fill="#c5e5bf" fill-opacity="0.75"/>
<circle cx="653.0" cy="425.0" r="2.5" fill="#c5e5bf" fill-opacity="0.75"/>
<circle cx="656.0" cy="420.5" r="2.5" fill="#c5e5bf" fill-opacity="0.75"/>
<circle cx="659.0" cy="416.0" r="2.5" fill="#c5e5bf" fill-opacity="0.75"/>
<circle cx="661.0" cy="427.0" r="2.5" fill="#c5e5bf" fill-opacity="0.75"/>
<circle cx="663.5" cy="421.5" r="2.5" fill="#c5e5bf" fill-opacity="0.75"/>
<circle cx="664.5" cy="415.5" r="2.5" fill="#c5e5bf" fill-opacity="0.75"/>
<circle cx="655.0" cy="428.0" r="2.5" fill="#c5e5bf" fill-opacity="0.75"/>
<circle cx="388.8" cy="317.0" r="2.5" fill="#1a505b" fill-opacity="0.7"/>
<circle cx="442.5" cy="291.3" r="2.5" fill="#1a505b" fill-opacity="0.7"/>
<circle cx="447.3" cy="287.6" r="2.5" fill="#1a505b" fill-opacity="0.7"/>
<circle cx="450.5" cy="287.6" r="2.5" fill="#1a505b" fill-opacity="0.7"/>
<circle cx="453.7" cy="282.3" r="2.5" fill="#1a505b" fill-opacity="0.7"/>
<circle cx="456.9" cy="292.9" r="2.5" fill="#1a505b" fill-opacity="0.7"/>
<circle cx="474.6" cy="319.2" r="2.5" fill="#1a505b" fill-opacity="0.7"/>
<circle cx="436.4" cy="364.2" r="2.5" fill="#1a505b" fill-opacity="0.7"/>
<circle cx="439.1" cy="366.0" r="2.5" fill="#1a505b" fill-opacity="0.7"/>
<circle cx="442.8" cy="372.4" r="2.5" fill="#1a505b" fill-opacity="0.7"/>
<circle cx="446.5" cy="372.4" r="2.5" fill="#1a505b" fill-opacity="0.7"/>
<circle cx="449.2" cy="367.5" r="2.5" fill="#1a505b" fill-opacity="0.7"/>
<circle cx="453.3" cy="371.9" r="2.5" fill="#1a505b" fill-opacity="0.7"/>
<circle cx="480.9" cy="422.8" r="2.5" fill="#1a505b" fill-opacity="0.7"/>
<circle cx="485.2" cy="424.3" r="2.5" fill="#1a505b" fill-opacity="0.7"/>
<circle cx="488.4" cy="417.4" r="2.5" fill="#1a505b" fill-opacity="0.7"/>
<circle cx="492.0" cy="416.5" r="2.5" fill="#1a505b" fill-opacity="0.7"/>
<circle cx="495.5" cy="416.5" r="2.5" fill="#1a505b" fill-opacity="0.7"/>
<circle cx="499.0" cy="415.5" r="2.5" fill="#1a505b" fill-opacity="0.7"/>
<circle cx="502.0" cy="421.5" r="2.5" fill="#1a505b" fill-opacity="0.7"/>
<circle cx="504.5" cy="416.0" r="2.5" fill="#1a505b" fill-opacity="0.7"/>
<circle cx="507.0" cy="423.5" r="2.5" fill="#1a505b" fill-opacity="0.7"/>
<circle cx="666.4" cy="312.2" r="2.5" fill="#1a505b" fill-opacity="0.7"/>
<circle cx="659.0" cy="338.0" r="2.5" fill="#1a505b" fill-opacity="0.7"/>
<circle cx="662.5" cy="336.5" r="2.5" fill="#1a505b" fill-opacity="0.7"/>
<circle cx="666.0" cy="338.0" r="2.5" fill="#1a505b" fill-opacity="0.7"/>
<circle cx="660.5" cy="342.5" r="2.5" fill="#1a505b" fill-opacity="0.7"/>
<circle cx="664.0" cy="343.0" r="2.5" fill="#1a505b" fill-opacity="0.7"/>
<circle cx="655.9" cy="365.7" r="2.5" fill="#1a505b" fill-opacity="0.7"/>
<circle cx="659.7" cy="371.9" r="2.5" fill="#1a505b" fill-opacity="0.7"/>
<circle cx="658.8" cy="398.0" r="2.5" fill="#1a505b" fill-opacity="0.7"/>
<circle cx="656.3" cy="415.1" r="2.5" fill="#1a505b" fill-opacity="0.7"/>
<circle cx="507.1" cy="418.8" r="2.5" fill="#1a505b" fill-opacity="0.7"/>
<circle cx="508.7" cy="425.0" r="2.5" fill="#1a505b" fill-opacity="0.7"/>
<circle cx="506.7" cy="416.0" r="2.5" fill="#1a505b" fill-opacity="0.7"/>
<circle cx="511.0" cy="424.1" r="2.5" fill="#1a505b" fill-opacity="0.7"/>
<circle cx="509.7" cy="419.8" r="2.5" fill="#1a505b" fill-opacity="0.7"/>
<circle cx="509.9" cy="424.6" r="2.5" fill="#1a505b" fill-opacity="0.7"/>
<circle cx="513.2" cy="426.9" r="2.5" fill="#1a505b" fill-opacity="0.7"/>
<circle cx="512.3" cy="421.4" r="2.5" fill="#1a505b" fill-opacity="0.7"/>
<circle cx="513.5" cy="426.0" r="2.5" fill="#1a505b" fill-opacity="0.7"/>
<circle cx="514.6" cy="415.7" r="2.5" fill="#1a505b" fill-opacity="0.7"/>
<circle cx="516.1" cy="415.5" r="2.5" fill="#1a505b" fill-opacity="0.7"/>
<circle cx="513.8" cy="421.6" r="2.5" fill="#1a505b" fill-opacity="0.7"/>
<circle cx="517.8" cy="418.2" r="2.5" fill="#1a505b" fill-opacity="0.7"/>
<circle cx="518.1" cy="415.5" r="2.5" fill="#1a505b" fill-opacity="0.7"/>
<circle cx="516.4" cy="422.8" r="2.5" fill="#1a505b" fill-opacity="0.7"/>
<circle cx="518.6" cy="423.6" r="2.5" fill="#1a505b" fill-opacity="0.7"/>
<circle cx="519.8" cy="418.0" r="2.5" fill="#1a505b" fill-opacity="0.7"/>
<circle cx="518.1" cy="419.0" r="2.5" fill="#1a505b" fill-opacity="0.7"/>
<circle cx="521.3" cy="416.0" r="2.5" fill="#1a505b" fill-opacity="0.7"/>
<circle cx="522.3" cy="421.6" r="2.5" fill="#1a505b" fill-opacity="0.7"/>
<circle cx="523.0" cy="426.2" r="2.5" fill="#1a505b" fill-opacity="0.7"/>
<circle cx="524.2" cy="424.5" r="2.5" fill="#1a505b" fill-opacity="0.7"/>
<circle cx="523.8" cy="418.5" r="2.5" fill="#1a505b" fill-opacity="0.7"/>
<circle cx="524.1" cy="426.2" r="2.5" fill="#1a505b" fill-opacity="0.7"/>
<circle cx="526.4" cy="419.0" r="2.5" fill="#1a505b" fill-opacity="0.7"/>
<circle cx="526.7" cy="419.0" r="2.5" fill="#1a505b" fill-opacity="0.7"/>
<circle cx="526.8" cy="419.3" r="2.5" fill="#1a505b" fill-opacity="0.7"/>
<circle cx="529.3" cy="424.5" r="2.5" fill="#1a505b" fill-opacity="0.7"/>
<circle cx="529.2" cy="425.0" r="2.5" fill="#1a505b" fill-opacity="0.7"/>
<circle cx="529.3" cy="416.7" r="2.5" fill="#1a505b" fill-opacity="0.7"/>
<circle cx="532.8" cy="418.0" r="2.5" fill="#1a505b" fill-opacity="0.7"/>
<circle cx="530.2" cy="420.9" r="2.5" fill="#1a505b" fill-opacity="0.7"/>
<circle cx="531.8" cy="421.6" r="2.5" fill="#1a505b" fill-opacity="0.7"/>
<circle cx="534.9" cy="424.6" r="2.5" fill="#1a505b" fill-opacity="0.7"/>
<circle cx="533.1" cy="421.3" r="2.5" fill="#1a505b" fill-opacity="0.7"/>
<circle cx="535.3" cy="415.6" r="2.5" fill="#1a505b" fill-opacity="0.7"/>
<circle cx="537.0" cy="425.7" r="2.5" fill="#1a505b" fill-opacity="0.7"/>
<circle cx="535.1" cy="422.4" r="2.5" fill="#1a505b" fill-opacity="0.7"/>
<circle cx="535.2" cy="423.8" r="2.5" fill="#1a505b" fill-opacity="0.7"/>
<circle cx="538.0" cy="417.3" r="2.5" fill="#1a505b" fill-opacity="0.7"/>
<circle cx="539.6" cy="421.0" r="2.5" fill="#1a505b" fill-opacity="0.7"/>
<circle cx="539.6" cy="419.4" r="2.5" fill="#1a505b" fill-opacity="0.7"/>
<circle cx="542.3" cy="422.9" r="2.5" fill="#1a505b" fill-opacity="0.7"/>
<circle cx="540.9" cy="421.2" r="2.5" fill="#1a505b" fill-opacity="0.7"/>
<circle cx="541.6" cy="423.4" r="2.5" fill="#1a505b" fill-opacity="0.7"/>
<circle cx="543.3" cy="424.8" r="2.5" fill="#1a505b" fill-opacity="0.7"/>
<circle cx="544.1" cy="425.2" r="2.5" fill="#1a505b" fill-opacity="0.7"/>
<circle cx="544.5" cy="424.9" r="2.5" fill="#1a505b" fill-opacity="0.7"/>
<circle cx="547.7" cy="422.5" r="2.5" fill="#1a505b" fill-opacity="0.7"/>
<circle cx="546.4" cy="423.4" r="2.5" fill="#1a505b" fill-opacity="0.7"/>
<circle cx="547.2" cy="419.8" r="2.5" fill="#1a505b" fill-opacity="0.7"/>
<circle cx="547.5" cy="423.8" r="2.5" fill="#1a505b" fill-opacity="0.7"/>
<circle cx="550.0" cy="419.2" r="2.5" fill="#1a505b" fill-opacity="0.7"/>
<circle cx="547.5" cy="417.1" r="2.5" fill="#1a505b" fill-opacity="0.7"/>
<circle cx="550.1" cy="426.6" r="2.5" fill="#1a505b" fill-opacity="0.7"/>
<circle cx="549.4" cy="418.4" r="2.5" fill="#1a505b" fill-opacity="0.7"/>
<circle cx="549.6" cy="422.6" r="2.5" fill="#1a505b" fill-opacity="0.7"/>
<circle cx="552.4" cy="415.3" r="2.5" fill="#1a505b" fill-opacity="0.7"/>
<circle cx="553.2" cy="421.8" r="2.5" fill="#1a505b" fill-opacity="0.7"/>
<circle cx="554.5" cy="415.0" r="2.5" fill="#1a505b" fill-opacity="0.7"/>
<circle cx="554.3" cy="417.2" r="2.5" fill="#1a505b" fill-opacity="0.7"/>
<circle cx="554.4" cy="423.5" r="2.5" fill="#1a505b" fill-opacity="0.7"/>
<circle cx="555.5" cy="417.3" r="2.5" fill="#1a505b" fill-opacity="0.7"/>
<circle cx="556.6" cy="416.7" r="2.5" fill="#1a505b" fill-opacity="0.7"/>
<circle cx="558.0" cy="418.4" r="2.5" fill="#1a505b" fill-opacity="0.7"/>
<circle cx="557.4" cy="424.7" r="2.5" fill="#1a505b" fill-opacity="0.7"/>
<circle cx="558.8" cy="425.6" r="2.5" fill="#1a505b" fill-opacity="0.7"/>
<circle cx="560.7" cy="418.8" r="2.5" fill="#1a505b" fill-opacity="0.7"/>
<circle cx="559.6" cy="426.5" r="2.5" fill="#1a505b" fill-opacity="0.7"/>
<circle cx="560.9" cy="415.1" r="2.5" fill="#1a505b" fill-opacity="0.7"/>
<circle cx="563.1" cy="424.5" r="2.5" fill="#1a505b" fill-opacity="0.7"/>
<circle cx="561.4" cy="421.1" r="2.5" fill="#1a505b" fill-opacity="0.7"/>
<circle cx="563.4" cy="426.9" r="2.5" fill="#1a505b" fill-opacity="0.7"/>
<circle cx="564.6" cy="417.5" r="2.5" fill="#1a505b" fill-opacity="0.7"/>
<circle cx="562.6" cy="420.4" r="2.5" fill="#1a505b" fill-opacity="0.7"/>
<circle cx="567.2" cy="423.4" r="2.5" fill="#1a505b" fill-opacity="0.7"/>
<circle cx="566.6" cy="416.5" r="2.5" fill="#1a505b" fill-opacity="0.7"/>
<circle cx="565.2" cy="418.5" r="2.5" fill="#1a505b" fill-opacity="0.7"/>
<circle cx="569.4" cy="421.0" r="2.5" fill="#1a505b" fill-opacity="0.7"/>
<circle cx="568.7" cy="426.9" r="2.5" fill="#1a505b" fill-opacity="0.7"/>
<circle cx="567.6" cy="421.2" r="2.5" fill="#1a505b" fill-opacity="0.7"/>
<circle cx="571.1" cy="414.5" r="2.5" fill="#1a505b" fill-opacity="0.7"/>
<circle cx="571.2" cy="425.1" r="2.5" fill="#1a505b" fill-opacity="0.7"/>
<circle cx="571.2" cy="415.5" r="2.5" fill="#1a505b" fill-opacity="0.7"/>
<circle cx="573.0" cy="415.7" r="2.5" fill="#1a505b" fill-opacity="0.7"/>
<circle cx="572.3" cy="420.4" r="2.5" fill="#1a505b" fill-opacity="0.7"/>
<circle cx="573.7" cy="421.8" r="2.5" fill="#1a505b" fill-opacity="0.7"/>
<circle cx="574.4" cy="424.4" r="2.5" fill="#1a505b" fill-opacity="0.7"/>
<circle cx="574.8" cy="426.0" r="2.5" fill="#1a505b" fill-opacity="0.7"/>
<circle cx="573.8" cy="424.8" r="2.5" fill="#1a505b" fill-opacity="0.7"/>
<circle cx="577.1" cy="421.1" r="2.5" fill="#1a505b" fill-opacity="0.7"/>
<circle cx="576.0" cy="424.9" r="2.5" fill="#1a505b" fill-opacity="0.7"/>
<circle cx="576.4" cy="418.4" r="2.5" fill="#1a505b" fill-opacity="0.7"/>
<circle cx="578.3" cy="420.3" r="2.5" fill="#1a505b" fill-opacity="0.7"/>
<circle cx="579.5" cy="419.0" r="2.5" fill="#1a505b" fill-opacity="0.7"/>
<circle cx="579.4" cy="415.8" r="2.5" fill="#1a505b" fill-opacity="0.7"/>
<circle cx="581.0" cy="426.6" r="2.5" fill="#1a505b" fill-opacity="0.7"/>
<circle cx="582.1" cy="422.7" r="2.5" fill="#1a505b" fill-opacity="0.7"/>
<circle cx="579.6" cy="419.2" r="2.5" fill="#1a505b" fill-opacity="0.7"/>
<circle cx="582.8" cy="421.6" r="2.5" fill="#1a505b" fill-opacity="0.7"/>
<circle cx="583.5" cy="414.6" r="2.5" fill="#1a505b" fill-opacity="0.7"/>
<circle cx="585.1" cy="424.5" r="2.5" fill="#1a505b" fill-opacity="0.7"/>
<circle cx="585.9" cy="418.1" r="2.5" fill="#1a505b" fill-opacity="0.7"/>
<circle cx="585.2" cy="421.2" r="2.5" fill="#1a505b" fill-opacity="0.7"/>
<circle cx="585.0" cy="418.7" r="2.5" fill="#1a505b" fill-opacity="0.7"/>
<circle cx="588.3" cy="417.7" r="2.5" fill="#1a505b" fill-opacity="0.7"/>
<circle cx="586.9" cy="423.6" r="2.5" fill="#1a505b" fill-opacity="0.7"/>
<circle cx="587.3" cy="426.3" r="2.5" fill="#1a505b" fill-opacity="0.7"/>
<circle cx="590.8" cy="418.6" r="2.5" fill="#1a505b" fill-opacity="0.7"/>
<circle cx="591.1" cy="415.7" r="2.5" fill="#1a505b" fill-opacity="0.7"/>
<circle cx="589.1" cy="415.7" r="2.5" fill="#1a505b" fill-opacity="0.7"/>
<circle cx="593.3" cy="416.7" r="2.5" fill="#1a505b" fill-opacity="0.7"/>
<circle cx="592.3" cy="425.0" r="2.5" fill="#1a505b" fill-opacity="0.7"/>
<circle cx="592.9" cy="415.6" r="2.5" fill="#1a505b" fill-opacity="0.7"/>
<circle cx="593.6" cy="416.1" r="2.5" fill="#1a505b" fill-opacity="0.7"/>
<circle cx="594.4" cy="415.4" r="2.5" fill="#1a505b" fill-opacity="0.7"/>
<circle cx="595.9" cy="419.8" r="2.5" fill="#1a505b" fill-opacity="0.7"/>
<circle cx="597.4" cy="424.1" r="2.5" fill="#1a505b" fill-opacity="0.7"/>
<circle cx="597.9" cy="419.3" r="2.5" fill="#1a505b" fill-opacity="0.7"/>
<circle cx="596.5" cy="419.7" r="2.5" fill="#1a505b" fill-opacity="0.7"/>
<circle cx="598.5" cy="423.2" r="2.5" fill="#1a505b" fill-opacity="0.7"/>
<circle cx="600.2" cy="424.4" r="2.5" fill="#1a505b" fill-opacity="0.7"/>
<circle cx="599.3" cy="422.1" r="2.5" fill="#1a505b" fill-opacity="0.7"/>
<circle cx="600.1" cy="418.8" r="2.5" fill="#1a505b" fill-opacity="0.7"/>
<circle cx="601.1" cy="415.8" r="2.5" fill="#1a505b" fill-opacity="0.7"/>
<circle cx="600.2" cy="420.9" r="2.5" fill="#1a505b" fill-opacity="0.7"/>
<circle cx="604.2" cy="422.1" r="2.5" fill="#1a505b" fill-opacity="0.7"/>
<circle cx="602.2" cy="424.1" r="2.5" fill="#1a505b" fill-opacity="0.7"/>
<circle cx="604.4" cy="421.4" r="2.5" fill="#1a505b" fill-opacity="0.7"/>
<circle cx="605.3" cy="416.3" r="2.5" fill="#1a505b" fill-opacity="0.7"/>
<circle cx="606.0" cy="426.8" r="2.5" fill="#1a505b" fill-opacity="0.7"/>
<circle cx="605.4" cy="423.4" r="2.5" fill="#1a505b" fill-opacity="0.7"/>
<circle cx="607.1" cy="426.3" r="2.5" fill="#1a505b" fill-opacity="0.7"/>
<circle cx="608.4" cy="417.0" r="2.5" fill="#1a505b" fill-opacity="0.7"/>
<circle cx="606.7" cy="417.6" r="2.5" fill="#1a505b" fill-opacity="0.7"/>
<circle cx="610.9" cy="418.6" r="2.5" fill="#1a505b" fill-opacity="0.7"/>
<circle cx="611.6" cy="419.0" r="2.5" fill="#1a505b" fill-opacity="0.7"/>
<circle cx="610.2" cy="416.1" r="2.5" fill="#1a505b" fill-opacity="0.7"/>
<circle cx="612.0" cy="425.8" r="2.5" fill="#1a505b" fill-opacity="0.7"/>
<circle cx="613.3" cy="421.5" r="2.5" fill="#1a505b" fill-opacity="0.7"/>
<circle cx="613.3" cy="417.8" r="2.5" fill="#1a505b" fill-opacity="0.7"/>
<circle cx="617.3" cy="424.7" r="2.5" fill="#1a505b" fill-opacity="0.7"/>
<circle cx="616.1" cy="416.0" r="2.5" fill="#1a505b" fill-opacity="0.7"/>
<circle cx="616.8" cy="418.1" r="2.5" fill="#1a505b" fill-opacity="0.7"/>
<circle cx="617.8" cy="421.7" r="2.5" fill="#1a505b" fill-opacity="0.7"/>
<circle cx="619.5" cy="416.8" r="2.5" fill="#1a505b" fill-opacity="0.7"/>
<circle cx="618.7" cy="415.5" r="2.5" fill="#1a505b" fill-opacity="0.7"/>
<circle cx="619.4" cy="426.8" r="2.5" fill="#1a505b" fill-opacity="0.7"/>
<circle cx="621.7" cy="422.7" r="2.5" fill="#1a505b" fill-opacity="0.7"/>
<circle cx="619.8" cy="422.9" r="2.5" fill="#1a505b" fill-opacity="0.7"/>
<circle cx="622.5" cy="421.9" r="2.5" fill="#1a505b" fill-opacity="0.7"/>
<circle cx="623.8" cy="414.7" r="2.5" fill="#1a505b" fill-opacity="0.7"/>
<circle cx="622.0" cy="420.4" r="2.5" fill="#1a505b" fill-opacity="0.7"/>
<circle cx="624.5" cy="421.6" r="2.5" fill="#1a505b" fill-opacity="0.7"/>
<circle cx="623.9" cy="421.0" r="2.5" fill="#1a505b" fill-opacity="0.7"/>
<circle cx="624.1" cy="421.6" r="2.5" fill="#1a505b" fill-opacity="0.7"/>
<circle cx="627.4" cy="415.0" r="2.5" fill="#1a505b" fill-opacity="0.7"/>
<circle cx="627.5" cy="416.3" r="2.5" fill="#1a505b" fill-opacity="0.7"/>
<circle cx="628.4" cy="422.0" r="2.5" fill="#1a505b" fill-opacity="0.7"/>
<circle cx="629.0" cy="422.3" r="2.5" fill="#1a505b" fill-opacity="0.7"/>
<circle cx="629.8" cy="424.0" r="2.5" fill="#1a505b" fill-opacity="0.7"/>
<circle cx="630.0" cy="420.6" r="2.5" fill="#1a505b" fill-opacity="0.7"/>
<circle cx="633.1" cy="425.2" r="2.5" fill="#1a505b" fill-opacity="0.7"/>
<circle cx="631.8" cy="419.9" r="2.5" fill="#1a505b" fill-opacity="0.7"/>
<circle cx="632.2" cy="425.8" r="2.5" fill="#1a505b" fill-opacity="0.7"/>
<circle cx="634.4" cy="419.9" r="2.5" fill="#1a505b" fill-opacity="0.7"/>
<circle cx="635.6" cy="418.5" r="2.5" fill="#1a505b" fill-opacity="0.7"/>
<circle cx="633.0" cy="423.6" r="2.5" fill="#1a505b" fill-opacity="0.7"/>
<circle cx="637.8" cy="422.0" r="2.5" fill="#1a505b" fill-opacity="0.7"/>
<circle cx="637.8" cy="418.3" r="2.5" fill="#1a505b" fill-opacity="0.7"/>
<circle cx="637.3" cy="415.4" r="2.5" fill="#1a505b" fill-opacity="0.7"/>
<circle cx="638.8" cy="420.8" r="2.5" fill="#1a505b" fill-opacity="0.7"/>
<circle cx="638.7" cy="415.1" r="2.5" fill="#1a505b" fill-opacity="0.7"/>
<circle cx="639.6" cy="421.1" r="2.5" fill="#1a505b" fill-opacity="0.7"/>
<circle cx="640.5" cy="419.4" r="2.5" fill="#1a505b" fill-opacity="0.7"/>
<circle cx="640.2" cy="415.4" r="2.5" fill="#1a505b" fill-opacity="0.7"/>
<circle cx="642.3" cy="426.6" r="2.5" fill="#1a505b" fill-opacity="0.7"/>
<circle cx="644.6" cy="419.8" r="2.5" fill="#1a505b" fill-opacity="0.7"/>
<circle cx="644.4" cy="417.3" r="2.5" fill="#1a505b" fill-opacity="0.7"/>
<circle cx="644.2" cy="421.6" r="2.5" fill="#1a505b" fill-opacity="0.7"/>
<circle cx="645.0" cy="424.4" r="2.5" fill="#1a505b" fill-opacity="0.7"/>
<circle cx="645.1" cy="421.2" r="2.5" fill="#1a505b" fill-opacity="0.7"/>
<circle cx="647.6" cy="414.5" r="2.5" fill="#1a505b" fill-opacity="0.7"/>
<circle cx="647.6" cy="418.6" r="2.5" fill="#1a505b" fill-opacity="0.7"/>
<circle cx="646.9" cy="425.7" r="2.5" fill="#1a505b" fill-opacity="0.7"/>
<circle cx="649.2" cy="419.5" r="2.5" fill="#1a505b" fill-opacity="0.7"/>
<circle cx="650.7" cy="415.1" r="2.5" fill="#1a505b" fill-opacity="0.7"/>
<circle cx="649.0" cy="425.7" r="2.5" fill="#1a505b" fill-opacity="0.7"/>
<circle cx="649.8" cy="420.7" r="2.5" fill="#1a505b" fill-opacity="0.7"/>
<circle cx="654.6" cy="420.4" r="2.5" fill="#1a505b" fill-opacity="0.7"/>
<circle cx="652.3" cy="418.2" r="2.5" fill="#1a505b" fill-opacity="0.7"/>
<circle cx="654.4" cy="425.7" r="2.5" fill="#1a505b" fill-opacity="0.7"/>
<circle cx="656.1" cy="418.9" r="2.5" fill="#1a505b" fill-opacity="0.7"/>
<circle cx="655.0" cy="416.6" r="2.5" fill="#1a505b" fill-opacity="0.7"/>
<circle cx="656.3" cy="426.9" r="2.5" fill="#1a505b" fill-opacity="0.7"/>
<circle cx="657.5" cy="416.9" r="2.5" fill="#1a505b" fill-opacity="0.7"/>
<circle cx="658.3" cy="415.1" r="2.5" fill="#1a505b" fill-opacity="0.7"/>
<circle cx="656.0" cy="423.6" r="2.5" fill="#1a505b" fill-opacity="0.7"/>
<path d="M399.3,349.3 C401.1,347.9 406.6,343.7 410.0,341.0 C413.4,338.3 416.7,335.7 420.0,333.0 C423.3,330.3 426.7,327.1 430.0,325.0 C433.3,322.9 435.8,322.6 440.0,320.5 C444.2,318.4 450.9,314.2 455.0,312.1 C459.1,310.0 462.0,309.0 464.5,308.0 C467.0,307.0 467.6,306.7 470.0,306.1 C472.4,305.5 476.1,304.7 479.2,304.3 C482.3,303.9 485.3,303.8 488.4,303.9 C491.4,304.0 494.4,304.4 497.5,304.9 C500.6,305.4 503.6,306.1 506.7,307.1 C509.8,308.1 512.8,309.3 515.9,310.7 C519.0,312.1 522.0,313.6 525.1,315.3 C528.2,317.0 531.2,318.8 534.3,320.8 C537.4,322.8 540.5,325.5 543.5,327.3 C546.5,329.1 549.6,331.0 552.6,331.9 C555.6,332.8 558.1,332.8 561.8,332.8 C565.5,332.8 571.3,332.1 575.0,331.8 C578.7,331.5 581.2,331.4 584.2,330.9 C587.2,330.4 590.2,329.5 593.3,329.0 C596.3,328.5 599.1,328.2 602.5,328.1 C605.9,328.0 610.1,327.6 613.5,328.1 C616.9,328.6 619.6,329.5 622.7,330.9 C625.8,332.3 628.8,334.3 631.9,336.4 C635.0,338.5 638.0,340.9 641.1,343.7 C644.2,346.4 647.7,349.5 650.2,352.9 C652.7,356.3 654.2,359.8 656.0,364.0 C657.8,368.2 659.3,373.3 661.0,378.0 C662.7,382.7 665.2,389.7 666.0,392.0 L666.0,416.0 C665.2,414.0 662.9,408.3 661.0,404.0 C659.1,399.7 657.3,395.3 654.6,390.0 C651.9,384.7 647.9,376.8 645.0,372.0 C642.1,367.2 639.9,364.3 637.4,361.0 C634.9,357.7 632.8,354.4 630.0,352.0 C627.2,349.6 623.9,347.7 620.9,346.5 C617.9,345.3 614.8,344.9 611.7,344.6 C608.6,344.3 605.6,344.4 602.5,344.6 C599.4,344.8 596.3,345.3 593.3,345.6 C590.2,345.9 587.2,346.2 584.2,346.5 C581.2,346.8 578.7,346.6 575.0,347.4 C571.3,348.2 565.5,350.6 561.8,351.1 C558.1,351.6 555.6,350.8 552.6,350.2 C549.6,349.6 546.5,348.6 543.5,347.5 C540.5,346.4 537.4,345.3 534.3,343.8 C531.2,342.3 528.2,340.1 525.1,338.3 C522.0,336.5 519.0,334.5 515.9,332.8 C512.8,331.1 509.8,329.4 506.7,328.2 C503.6,327.0 500.6,326.0 497.5,325.4 C494.4,324.8 491.4,324.4 488.4,324.5 C485.3,324.6 482.3,325.6 479.2,326.3 C476.1,327.1 472.4,328.3 470.0,329.0 C467.6,329.7 467.0,329.2 464.5,330.5 C462.0,331.8 458.2,334.4 455.0,337.0 C451.8,339.6 448.1,342.3 445.0,346.0 C441.9,349.7 438.9,354.8 436.4,359.0 C433.9,363.2 432.7,366.1 430.0,371.5 C427.3,376.9 423.3,384.8 420.0,391.5 C416.7,398.2 413.4,404.6 410.0,411.5 C406.6,418.4 401.1,429.4 399.3,433.0 Z" fill="#999" fill-opacity="0.4"/>
<path d="M402.7,286.4 C403.9,287.9 407.1,291.7 410.0,295.5 C412.9,299.3 416.7,304.2 420.0,309.0 C423.3,313.8 426.7,318.4 430.0,324.0 C433.3,329.6 436.7,336.9 440.0,342.5 C443.3,348.1 446.7,353.1 450.0,357.5 C453.3,361.9 456.7,365.2 460.0,369.0 C463.3,372.8 466.7,376.9 470.0,380.5 C473.3,384.1 476.7,387.3 480.0,390.5 C483.3,393.7 486.7,396.8 490.0,399.5 C493.3,402.2 496.7,404.4 500.0,406.5 C503.3,408.6 506.7,410.4 510.0,412.0 C513.3,413.6 516.7,414.9 520.0,416.0 C523.3,417.1 526.7,417.9 530.0,418.5 C533.3,419.1 535.0,419.4 540.0,419.5 C545.0,419.6 553.3,419.4 560.0,419.3 C566.7,419.2 573.3,419.1 580.0,419.0 C586.7,418.9 595.0,418.5 600.0,418.5 C605.0,418.5 606.7,419.2 610.0,419.0 C613.3,418.8 616.7,418.8 620.0,417.5 C623.3,416.2 626.7,413.9 630.0,411.0 C633.3,408.1 636.7,404.5 640.0,400.0 C643.3,395.5 647.0,389.5 650.0,384.0 C653.0,378.5 655.3,372.3 658.0,367.0 C660.7,361.7 664.7,354.5 666.0,352.0 L666.0,392.0 C664.7,393.8 660.7,399.8 658.0,403.0 C655.3,406.2 653.0,408.5 650.0,411.0 C647.0,413.5 643.3,416.0 640.0,418.0 C636.7,420.0 633.3,421.7 630.0,423.0 C626.7,424.3 623.3,425.5 620.0,426.0 C616.7,426.5 613.3,426.5 610.0,426.0 C606.7,425.5 605.0,423.8 600.0,423.0 C595.0,422.2 586.7,421.7 580.0,421.5 C573.3,421.3 566.7,421.7 560.0,421.8 C553.3,421.9 545.0,422.0 540.0,422.0 C535.0,422.0 533.3,422.1 530.0,421.8 C526.7,421.6 523.3,421.3 520.0,420.5 C516.7,419.7 513.3,418.3 510.0,417.0 C506.7,415.7 503.3,414.3 500.0,412.5 C496.7,410.7 493.3,408.4 490.0,406.0 C486.7,403.6 483.3,401.0 480.0,398.0 C476.7,395.0 473.3,391.7 470.0,388.0 C466.7,384.3 463.3,380.0 460.0,376.0 C456.7,372.0 453.3,367.9 450.0,364.0 C446.7,360.1 443.3,356.3 440.0,352.6 C436.7,348.9 433.3,345.1 430.0,342.0 C426.7,338.9 423.3,336.7 420.0,334.0 C416.7,331.3 412.9,328.7 410.0,326.0 C407.1,323.3 403.9,319.3 402.7,318.0 Z" fill="#999" fill-opacity="0.4"/>
<path d="M388.3,409.1 C389.4,407.4 392.8,402.2 395.0,399.0 C397.2,395.8 398.9,393.9 401.5,389.9 C404.1,385.9 407.6,379.8 410.7,375.2 C413.8,370.6 417.0,366.5 419.9,362.3 C422.8,358.1 425.4,353.5 428.1,350.0 C430.8,346.5 433.3,344.1 436.0,341.5 C438.7,338.9 441.4,336.4 444.1,334.1 C446.8,331.8 449.3,329.5 452.0,327.5 C454.7,325.5 457.1,323.7 460.1,322.1 C463.1,320.5 466.8,319.2 470.0,318.1 C473.2,317.0 476.1,316.1 479.2,315.3 C482.3,314.5 485.3,313.7 488.4,313.5 C491.4,313.3 494.4,313.6 497.5,314.0 C500.6,314.4 503.6,314.9 506.7,315.9 C509.8,316.9 512.8,318.5 515.9,319.9 C519.0,321.3 522.0,322.8 525.1,324.5 C528.2,326.2 531.2,328.2 534.3,330.0 C537.4,331.8 540.5,333.8 543.5,335.5 C546.5,337.2 549.6,339.0 552.6,340.1 C555.6,341.2 558.7,341.6 561.8,342.0 C564.9,342.4 568.0,342.3 571.0,342.3 C574.0,342.3 576.3,342.6 580.0,342.1 C583.7,341.6 589.5,339.9 593.3,339.1 C597.0,338.3 599.4,337.8 602.5,337.3 C605.6,336.9 608.6,336.2 611.7,336.4 C614.8,336.5 617.9,337.1 620.9,338.2 C623.9,339.3 627.0,340.6 630.0,342.8 C633.0,345.0 636.4,348.1 639.2,351.1 C642.0,354.1 644.0,356.9 646.6,361.0 C649.2,365.1 652.7,371.8 655.0,376.0 C657.3,380.2 658.7,382.6 660.5,386.0 C662.3,389.4 664.9,394.6 665.8,396.3" fill="none" stroke="#c5e5bf" stroke-width="2"/>
<path d="M392.0,286.0 C393.8,288.4 398.9,295.3 402.7,300.3 C406.5,305.3 410.8,310.7 415.0,316.0 C419.2,321.3 423.8,326.8 428.0,332.0 C432.2,337.2 436.2,342.8 440.0,347.5 C443.8,352.2 447.2,356.3 450.8,360.4 C454.4,364.5 457.9,368.4 461.5,372.3 C465.1,376.2 468.6,380.3 472.3,384.1 C476.1,387.9 480.3,391.8 484.0,395.0 C487.7,398.2 491.0,401.0 494.5,403.5 C498.0,406.0 501.6,408.1 505.0,410.2 C508.4,412.3 512.0,414.4 515.0,415.9 C518.0,417.4 519.8,418.3 523.0,419.1 C526.2,419.9 530.1,420.4 534.2,420.7 C538.3,420.9 543.2,420.7 547.5,420.6 C551.8,420.6 555.4,420.5 560.0,420.4 C564.6,420.3 569.5,420.1 575.0,420.1 C580.5,420.2 588.7,420.5 593.3,420.7 C597.9,420.9 599.4,421.0 602.5,421.4 C605.6,421.8 608.6,423.2 611.7,423.3 C614.8,423.4 617.9,423.0 620.9,422.0 C623.9,421.0 627.0,419.5 630.0,417.4 C633.0,415.2 636.1,412.3 639.2,409.1 C642.3,405.9 645.6,401.6 648.4,398.1 C651.1,394.6 653.6,391.1 655.7,388.0 C657.8,384.9 659.5,382.7 661.2,379.8 C663.0,376.9 665.4,372.1 666.2,370.6" fill="none" stroke="#1a505b" stroke-width="2.2"/>
<rect x="374.7" y="275.1" width="308.8" height="166.2" fill="none" stroke="#7a7a7a" stroke-width="1"/>
<line x1="391.9" y1="441.3" x2="391.9" y2="443.8" stroke="#333" stroke-width="0.8"/>
<text transform="translate(391.9,455) scale(1,1.08)" x="0" y="0" font-size="11.2" fill="#1a1a1a" stroke="#1a1a1a" stroke-width="0.2" text-anchor="middle">1940</text>
<line x1="426.2" y1="441.3" x2="426.2" y2="443.8" stroke="#333" stroke-width="0.8"/>
<line x1="460.5" y1="441.3" x2="460.5" y2="443.8" stroke="#333" stroke-width="0.8"/>
<text transform="translate(460.5,455) scale(1,1.08)" x="0" y="0" font-size="11.2" fill="#1a1a1a" stroke="#1a1a1a" stroke-width="0.2" text-anchor="middle">1960</text>
<line x1="494.8" y1="441.3" x2="494.8" y2="443.8" stroke="#333" stroke-width="0.8"/>
<line x1="529.1" y1="441.3" x2="529.1" y2="443.8" stroke="#333" stroke-width="0.8"/>
<text transform="translate(529.1,455) scale(1,1.08)" x="0" y="0" font-size="11.2" fill="#1a1a1a" stroke="#1a1a1a" stroke-width="0.2" text-anchor="middle">1980</text>
<line x1="563.5" y1="441.3" x2="563.5" y2="443.8" stroke="#333" stroke-width="0.8"/>
<line x1="597.8" y1="441.3" x2="597.8" y2="443.8" stroke="#333" stroke-width="0.8"/>
<text transform="translate(597.8,455) scale(1,1.08)" x="0" y="0" font-size="11.2" fill="#1a1a1a" stroke="#1a1a1a" stroke-width="0.2" text-anchor="middle">2000</text>
<line x1="632.1" y1="441.3" x2="632.1" y2="443.8" stroke="#333" stroke-width="0.8"/>
<line x1="666.4" y1="441.3" x2="666.4" y2="443.8" stroke="#333" stroke-width="0.8"/>
<text transform="translate(666.4,455) scale(1,1.08)" x="0" y="0" font-size="11.2" fill="#1a1a1a" stroke="#1a1a1a" stroke-width="0.2" text-anchor="middle">2020</text>
<line x1="372.4" y1="421.5" x2="374.7" y2="421.5" stroke="#333" stroke-width="0.8"/>
<text transform="translate(369.5,425.6) scale(1,1.08)" x="0" y="0" font-size="11.2" fill="#1a1a1a" stroke="#1a1a1a" stroke-width="0.2" text-anchor="end">0</text>
<line x1="372.4" y1="394.7" x2="374.7" y2="394.7" stroke="#333" stroke-width="0.8"/>
<text transform="translate(369.5,398.8) scale(1,1.08)" x="0" y="0" font-size="11.2" fill="#1a1a1a" stroke="#1a1a1a" stroke-width="0.2" text-anchor="end">1</text>
<line x1="372.4" y1="367.9" x2="374.7" y2="367.9" stroke="#333" stroke-width="0.8"/>
<text transform="translate(369.5,372.0) scale(1,1.08)" x="0" y="0" font-size="11.2" fill="#1a1a1a" stroke="#1a1a1a" stroke-width="0.2" text-anchor="end">2</text>
<line x1="372.4" y1="341.1" x2="374.7" y2="341.1" stroke="#333" stroke-width="0.8"/>
<text transform="translate(369.5,345.2) scale(1,1.08)" x="0" y="0" font-size="11.2" fill="#1a1a1a" stroke="#1a1a1a" stroke-width="0.2" text-anchor="end">3</text>
<line x1="372.4" y1="314.3" x2="374.7" y2="314.3" stroke="#333" stroke-width="0.8"/>
<text transform="translate(369.5,318.4) scale(1,1.08)" x="0" y="0" font-size="11.2" fill="#1a1a1a" stroke="#1a1a1a" stroke-width="0.2" text-anchor="end">4</text>
<line x1="372.4" y1="287.5" x2="374.7" y2="287.5" stroke="#333" stroke-width="0.8"/>
<text transform="translate(369.5,291.6) scale(1,1.08)" x="0" y="0" font-size="11.2" fill="#1a1a1a" stroke="#1a1a1a" stroke-width="0.2" text-anchor="end">5</text>
<text x="529.5" y="470.7" font-size="13.8" fill="#111" text-anchor="middle"  stroke="#111" stroke-width="0.2">Year</text>
<text transform="translate(358.4,357.9) rotate(-90)" x="0" y="0" font-size="13.7" fill="#111" stroke="#111" stroke-width="0.2" text-anchor="middle">Relative Abundance (mean)</text>
<text x="671.7" y="295.8" font-size="21" fill="#000" text-anchor="start"  stroke="#000" stroke-width="0.3">f</text>
<g transform="translate(0,0)" fill="none" stroke="#111" stroke-width="0.7" stroke-linecap="round" stroke-linejoin="round"><path d="M132.5,456.9 C132,452.5 135.5,450 140.1,450 C144.5,450.2 147.4,453 147.8,457.7 C148,461 147.5,464 146.6,465.7 C145.5,468 143,469.5 138.5,470.9 C134,471.3 130,470.9 127.3,470.5 C126,469.8 125.6,469 124.5,468.6 C121,468.3 117,468.4 115.2,468.1 C114,467.6 113.6,466.6 114,466.1 C117,464.5 121,463 124.1,461.7 C127,460.5 130,459.6 132.5,456.9"/><path d="M133.5,458.5 C134.5,460 135.5,461.5 134.8,463.5 M137,459.5 C138,461 139.5,462 140.5,461.5 M141,457 C142,456.8 143,456.2 143.5,455.5 M145.5,459 L146.5,458.5 M148.5,462 L152,461.5 M148,463.8 L151,464 M149.5,459.2 L152.5,459 M112,456.5 L114.5,457 M117,461 L120,460.5 M146,472.5 L150,472.8"/></g><g transform="translate(0,0)" fill="#111"><circle cx="140.5" cy="452.8" r="0.7"/><circle cx="138.5" cy="455.8" r="0.6"/><circle cx="145.5" cy="457" r="0.6"/></g>
<g transform="translate(347.8,0)" fill="none" stroke="#111" stroke-width="0.7" stroke-linecap="round" stroke-linejoin="round"><path d="M132.5,456.9 C132,452.5 135.5,450 140.1,450 C144.5,450.2 147.4,453 147.8,457.7 C148,461 147.5,464 146.6,465.7 C145.5,468 143,469.5 138.5,470.9 C134,471.3 130,470.9 127.3,470.5 C126,469.8 125.6,469 124.5,468.6 C121,468.3 117,468.4 115.2,468.1 C114,467.6 113.6,466.6 114,466.1 C117,464.5 121,463 124.1,461.7 C127,460.5 130,459.6 132.5,456.9"/><path d="M133.5,458.5 C134.5,460 135.5,461.5 134.8,463.5 M137,459.5 C138,461 139.5,462 140.5,461.5 M141,457 C142,456.8 143,456.2 143.5,455.5 M145.5,459 L146.5,458.5 M148.5,462 L152,461.5 M148,463.8 L151,464 M149.5,459.2 L152.5,459 M112,456.5 L114.5,457 M117,461 L120,460.5 M146,472.5 L150,472.8"/></g><g transform="translate(347.8,0)" fill="#111"><circle cx="140.5" cy="452.8" r="0.7"/><circle cx="138.5" cy="455.8" r="0.6"/><circle cx="145.5" cy="457" r="0.6"/></g>
<g stroke="#0a0a0a" stroke-width="1" stroke-linecap="round"><line x1="292.7" y1="458.7" x2="305.3" y2="458.9"/><line x1="292.9" y1="459.4" x2="304.6" y2="462.3"/><line x1="292.9" y1="459.5" x2="303.1" y2="462.2"/><line x1="290.8" y1="459.1" x2="302.8" y2="466.8"/><line x1="291.5" y1="460.0" x2="298.5" y2="466.3"/><line x1="290.7" y1="459.5" x2="295.6" y2="466.7"/><line x1="291.0" y1="460.9" x2="295.8" y2="471.2"/><line x1="290.3" y1="459.4" x2="292.8" y2="471.3"/><line x1="290.1" y1="459.1" x2="288.7" y2="468.3"/><line x1="289.8" y1="459.6" x2="285.6" y2="468.0"/><line x1="289.5" y1="459.6" x2="281.0" y2="469.4"/><line x1="288.6" y1="460.1" x2="279.9" y2="466.6"/><line x1="288.5" y1="460.0" x2="277.7" y2="467.2"/><line x1="289.0" y1="459.0" x2="275.1" y2="462.9"/><line x1="289.4" y1="458.8" x2="278.6" y2="461.0"/><line x1="288.2" y1="458.8" x2="277.6" y2="459.5"/><line x1="288.9" y1="458.5" x2="275.6" y2="457.2"/><line x1="288.6" y1="458.0" x2="275.8" y2="453.8"/><line x1="288.3" y1="457.3" x2="278.9" y2="452.2"/><line x1="289.8" y1="458.2" x2="278.2" y2="449.2"/><line x1="290.0" y1="458.1" x2="283.1" y2="446.9"/><line x1="289.7" y1="456.7" x2="286.9" y2="448.0"/><line x1="290.0" y1="457.7" x2="287.9" y2="449.3"/><line x1="290.7" y1="456.3" x2="292.5" y2="448.6"/><line x1="290.7" y1="457.3" x2="296.5" y2="446.1"/><line x1="291.4" y1="456.5" x2="296.8" y2="448.3"/><line x1="291.7" y1="456.6" x2="299.4" y2="448.5"/><line x1="292.6" y1="457.1" x2="299.7" y2="453.6"/><line x1="292.0" y1="457.6" x2="301.5" y2="453.4"/><line x1="293.0" y1="458.2" x2="303.0" y2="457.2"/></g><g stroke="#fff" stroke-width="0.6" stroke-opacity="0.8"><line x1="287.2" y1="459.6" x2="292.2" y2="461.6"/><line x1="289.2" y1="456.6" x2="293.2" y2="459.6"/></g>
<g stroke="#0a0a0a" stroke-width="1" stroke-linecap="round"><line x1="636.7" y1="457.6" x2="649.3" y2="457.8"/><line x1="636.9" y1="458.3" x2="648.6" y2="461.2"/><line x1="636.9" y1="458.4" x2="647.1" y2="461.1"/><line x1="634.8" y1="458.0" x2="646.8" y2="465.7"/><line x1="635.5" y1="458.9" x2="642.5" y2="465.2"/><line x1="634.7" y1="458.4" x2="639.6" y2="465.6"/><line x1="635.0" y1="459.8" x2="639.8" y2="470.1"/><line x1="634.3" y1="458.3" x2="636.8" y2="470.2"/><line x1="634.1" y1="458.0" x2="632.7" y2="467.2"/><line x1="633.8" y1="458.5" x2="629.6" y2="466.9"/><line x1="633.5" y1="458.5" x2="625.0" y2="468.3"/><line x1="632.6" y1="459.0" x2="623.9" y2="465.5"/><line x1="632.5" y1="458.9" x2="621.7" y2="466.1"/><line x1="633.0" y1="457.9" x2="619.1" y2="461.8"/><line x1="633.4" y1="457.7" x2="622.6" y2="459.9"/><line x1="632.2" y1="457.7" x2="621.6" y2="458.4"/><line x1="632.9" y1="457.4" x2="619.6" y2="456.1"/><line x1="632.6" y1="456.9" x2="619.8" y2="452.7"/><line x1="632.3" y1="456.2" x2="622.9" y2="451.1"/><line x1="633.8" y1="457.1" x2="622.2" y2="448.1"/><line x1="634.0" y1="457.0" x2="627.1" y2="445.8"/><line x1="633.7" y1="455.6" x2="630.9" y2="446.9"/><line x1="634.0" y1="456.6" x2="631.9" y2="448.2"/><line x1="634.7" y1="455.2" x2="636.5" y2="447.5"/><line x1="634.7" y1="456.2" x2="640.5" y2="445.0"/><line x1="635.4" y1="455.4" x2="640.8" y2="447.2"/><line x1="635.7" y1="455.5" x2="643.4" y2="447.4"/><line x1="636.6" y1="456.0" x2="643.7" y2="452.5"/><line x1="636.0" y1="456.5" x2="645.5" y2="452.3"/><line x1="637.0" y1="457.1" x2="647.0" y2="456.1"/></g><g stroke="#fff" stroke-width="0.6" stroke-opacity="0.8"><line x1="631.2" y1="458.5" x2="636.2" y2="460.5"/><line x1="633.2" y1="455.5" x2="637.2" y2="458.5"/></g>
</svg>
</body></html>
